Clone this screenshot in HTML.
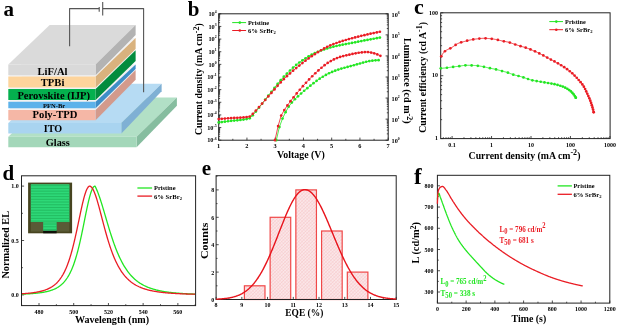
<!DOCTYPE html>
<html><head><meta charset="utf-8"><style>
html,body{margin:0;padding:0;background:#fff;overflow:hidden;}
svg{display:block;filter:blur(0.35px);}
text{font-family:"Liberation Serif",serif;font-weight:bold;}
</style></head><body>
<svg width="617" height="326" viewBox="0 0 617 326">
<rect width="617" height="326" fill="#fff"/>
<text x="3.50" y="16.00" font-size="21" text-anchor="start" fill="#000" >a</text>
<polygon points="8.30,136.80 136.60,136.80 176.90,97.50 49.70,97.50" fill="#b2e0c6" stroke="none" stroke-width="0" />
<polygon points="136.60,136.80 176.90,97.50 176.90,105.70 136.60,147.20" fill="#86bd9f" stroke="none" stroke-width="0" />
<polygon points="8.30,136.80 136.60,136.80 136.60,147.20 8.30,147.20" fill="#a3d7b9" stroke="none" stroke-width="0" />
<polygon points="8.30,122.90 121.40,122.90 161.60,83.80 49.70,83.80" fill="#b6dbf3" stroke="none" stroke-width="0" />
<polygon points="121.40,122.90 161.60,83.80 161.60,91.30 121.40,133.60" fill="#7fb0d4" stroke="none" stroke-width="0" />
<polygon points="8.30,122.90 121.40,122.90 121.40,133.60 8.30,133.60" fill="#a9d4f0" stroke="none" stroke-width="0" />
<polygon points="8.30,109.90 95.60,109.90 135.60,69.90 49.70,69.90" fill="#f2f2f2" stroke="none" stroke-width="0" />
<polygon points="95.60,109.90 135.60,69.90 135.60,79.80 95.60,120.30" fill="#d39a8c" stroke="none" stroke-width="0" />
<polygon points="8.30,109.90 95.60,109.90 95.60,120.30 8.30,120.30" fill="#f5b7a6" stroke="none" stroke-width="0" />
<polygon points="8.30,101.70 95.60,101.70 135.60,64.60 49.70,64.60" fill="#f2f2f2" stroke="none" stroke-width="0" />
<polygon points="95.60,101.70 135.60,64.60 135.60,68.90 95.60,108.30" fill="#3f8ec8" stroke="none" stroke-width="0" />
<polygon points="8.30,101.70 95.60,101.70 95.60,108.30 8.30,108.30" fill="#5db2ea" stroke="none" stroke-width="0" />
<polygon points="8.30,89.00 95.60,89.00 135.60,50.30 49.70,50.30" fill="#f2f2f2" stroke="none" stroke-width="0" />
<polygon points="95.60,89.00 135.60,50.30 135.60,60.90 95.60,99.90" fill="#038c3e" stroke="none" stroke-width="0" />
<polygon points="8.30,89.00 95.60,89.00 95.60,99.90 8.30,99.90" fill="#04b04e" stroke="none" stroke-width="0" />
<polygon points="8.30,76.60 95.60,76.60 135.60,38.00 49.70,38.00" fill="#f2f2f2" stroke="none" stroke-width="0" />
<polygon points="95.60,76.60 135.60,38.00 135.60,48.90 95.60,87.60" fill="#d9b27e" stroke="none" stroke-width="0" />
<polygon points="8.30,76.60 95.60,76.60 95.60,87.60 8.30,87.60" fill="#fdd49c" stroke="none" stroke-width="0" />
<polygon points="8.30,64.50 95.60,64.50 135.60,25.00 49.70,25.00" fill="#dadada" stroke="none" stroke-width="0" />
<polygon points="95.60,64.50 135.60,25.00 135.60,35.00 95.60,75.20" fill="#b3b3b3" stroke="none" stroke-width="0" />
<polygon points="8.30,64.50 95.60,64.50 95.60,75.20 8.30,75.20" fill="#d9d9d9" stroke="none" stroke-width="0" />
<path d="M69.60,46.30 L69.60,8.60 L99.20,8.60" stroke="#555" stroke-width="1.1" fill="none" stroke-linejoin="round" />
<path d="M102.70,8.60 L143.60,8.60 L143.60,92.30" stroke="#555" stroke-width="1.1" fill="none" stroke-linejoin="round" />
<line x1="99.20" y1="7.00" x2="99.20" y2="11.80" stroke="#555" stroke-width="1.1"/>
<line x1="102.70" y1="2.00" x2="102.70" y2="15.50" stroke="#555" stroke-width="1.1"/>
<text x="52.50" y="74.60" font-size="10.7" text-anchor="middle" fill="#000" textLength="29.9" lengthAdjust="spacingAndGlyphs" >LiF/Al</text>
<text x="52.60" y="86.40" font-size="10.7" text-anchor="middle" fill="#000" textLength="23.7" lengthAdjust="spacingAndGlyphs" >TPBi</text>
<text x="53.70" y="98.80" font-size="11" text-anchor="middle" fill="#000" textLength="72.6" lengthAdjust="spacingAndGlyphs" >Perovskite (IJP)</text>
<text x="54.10" y="107.60" font-size="6.5" text-anchor="middle" fill="#000" textLength="22.2" lengthAdjust="spacingAndGlyphs" >PFN-Br</text>
<text x="55.00" y="118.40" font-size="10.7" text-anchor="middle" fill="#000" textLength="44.8" lengthAdjust="spacingAndGlyphs" >Poly-TPD</text>
<text x="53.00" y="132.40" font-size="10.7" text-anchor="middle" fill="#000" textLength="18.4" lengthAdjust="spacingAndGlyphs" >ITO</text>
<text x="57.80" y="145.80" font-size="10.7" text-anchor="middle" fill="#000" textLength="24.1" lengthAdjust="spacingAndGlyphs" >Glass</text>
<text x="187.80" y="16.30" font-size="21" text-anchor="start" fill="#000" >b</text>
<path d="M218.70,140.20L221.30,140.20M218.70,136.39L220.10,136.39M218.70,134.17L220.10,134.17M218.70,132.59L220.10,132.59M218.70,131.37L220.10,131.37M218.70,130.36L220.10,130.36M218.70,129.52L220.10,129.52M218.70,128.78L220.10,128.78M218.70,128.14L220.10,128.14M218.70,127.56L221.30,127.56M218.70,123.75L220.10,123.75M218.70,121.53L220.10,121.53M218.70,119.95L220.10,119.95M218.70,118.73L220.10,118.73M218.70,117.72L220.10,117.72M218.70,116.88L220.10,116.88M218.70,116.14L220.10,116.14M218.70,115.50L220.10,115.50M218.70,114.92L221.30,114.92M218.70,111.11L220.10,111.11M218.70,108.89L220.10,108.89M218.70,107.31L220.10,107.31M218.70,106.09L220.10,106.09M218.70,105.08L220.10,105.08M218.70,104.24L220.10,104.24M218.70,103.50L220.10,103.50M218.70,102.86L220.10,102.86M218.70,102.28L221.30,102.28M218.70,98.47L220.10,98.47M218.70,96.25L220.10,96.25M218.70,94.67L220.10,94.67M218.70,93.45L220.10,93.45M218.70,92.44L220.10,92.44M218.70,91.60L220.10,91.60M218.70,90.86L220.10,90.86M218.70,90.22L220.10,90.22M218.70,89.64L221.30,89.64M218.70,85.83L220.10,85.83M218.70,83.61L220.10,83.61M218.70,82.03L220.10,82.03M218.70,80.81L220.10,80.81M218.70,79.80L220.10,79.80M218.70,78.96L220.10,78.96M218.70,78.22L220.10,78.22M218.70,77.58L220.10,77.58M218.70,77.00L221.30,77.00M218.70,73.19L220.10,73.19M218.70,70.97L220.10,70.97M218.70,69.39L220.10,69.39M218.70,68.17L220.10,68.17M218.70,67.16L220.10,67.16M218.70,66.32L220.10,66.32M218.70,65.58L220.10,65.58M218.70,64.94L220.10,64.94M218.70,64.36L221.30,64.36M218.70,60.55L220.10,60.55M218.70,58.33L220.10,58.33M218.70,56.75L220.10,56.75M218.70,55.53L220.10,55.53M218.70,54.52L220.10,54.52M218.70,53.68L220.10,53.68M218.70,52.94L220.10,52.94M218.70,52.30L220.10,52.30M218.70,51.72L221.30,51.72M218.70,47.91L220.10,47.91M218.70,45.69L220.10,45.69M218.70,44.11L220.10,44.11M218.70,42.89L220.10,42.89M218.70,41.88L220.10,41.88M218.70,41.04L220.10,41.04M218.70,40.30L220.10,40.30M218.70,39.66L220.10,39.66M218.70,39.08L221.30,39.08M218.70,35.27L220.10,35.27M218.70,33.05L220.10,33.05M218.70,31.47L220.10,31.47M218.70,30.25L220.10,30.25M218.70,29.24L220.10,29.24M218.70,28.40L220.10,28.40M218.70,27.66L220.10,27.66M218.70,27.02L220.10,27.02M218.70,26.44L221.30,26.44M218.70,22.63L220.10,22.63M218.70,20.41L220.10,20.41M218.70,18.83L220.10,18.83M218.70,17.61L220.10,17.61M218.70,16.60L220.10,16.60M218.70,15.76L220.10,15.76M218.70,15.02L220.10,15.02M218.70,14.38L220.10,14.38M218.70,13.80L221.30,13.80M388.20,140.20L385.60,140.20M388.20,133.86L386.80,133.86M388.20,130.15L386.80,130.15M388.20,127.52L386.80,127.52M388.20,125.48L386.80,125.48M388.20,123.81L386.80,123.81M388.20,122.40L386.80,122.40M388.20,121.17L386.80,121.17M388.20,120.10L386.80,120.10M388.20,119.13L385.60,119.13M388.20,112.79L386.80,112.79M388.20,109.08L386.80,109.08M388.20,106.45L386.80,106.45M388.20,104.41L386.80,104.41M388.20,102.74L386.80,102.74M388.20,101.33L386.80,101.33M388.20,100.11L386.80,100.11M388.20,99.03L386.80,99.03M388.20,98.07L385.60,98.07M388.20,91.72L386.80,91.72M388.20,88.02L386.80,88.02M388.20,85.38L386.80,85.38M388.20,83.34L386.80,83.34M388.20,81.67L386.80,81.67M388.20,80.26L386.80,80.26M388.20,79.04L386.80,79.04M388.20,77.96L386.80,77.96M388.20,77.00L385.60,77.00M388.20,70.66L386.80,70.66M388.20,66.95L386.80,66.95M388.20,64.32L386.80,64.32M388.20,62.28L386.80,62.28M388.20,60.61L386.80,60.61M388.20,59.20L386.80,59.20M388.20,57.97L386.80,57.97M388.20,56.90L386.80,56.90M388.20,55.93L385.60,55.93M388.20,49.59L386.80,49.59M388.20,45.88L386.80,45.88M388.20,43.25L386.80,43.25M388.20,41.21L386.80,41.21M388.20,39.54L386.80,39.54M388.20,38.13L386.80,38.13M388.20,36.91L386.80,36.91M388.20,35.83L386.80,35.83M388.20,34.87L385.60,34.87M388.20,28.52L386.80,28.52M388.20,24.82L386.80,24.82M388.20,22.18L386.80,22.18M388.20,20.14L386.80,20.14M388.20,18.47L386.80,18.47M388.20,17.06L386.80,17.06M388.20,15.84L386.80,15.84M388.20,14.76L386.80,14.76M388.20,13.80L385.60,13.80M218.70,140.20L218.70,137.60M232.82,140.20L232.82,138.80M246.95,140.20L246.95,137.60M261.07,140.20L261.07,138.80M275.20,140.20L275.20,137.60M289.32,140.20L289.32,138.80M303.45,140.20L303.45,137.60M317.57,140.20L317.57,138.80M331.70,140.20L331.70,137.60M345.82,140.20L345.82,138.80M359.95,140.20L359.95,137.60M374.07,140.20L374.07,138.80M388.20,140.20L388.20,137.60" stroke="#222" stroke-width="0.8" fill="none"/>
<rect x="218.70" y="13.80" width="169.50" height="126.40" fill="none" stroke="#222" stroke-width="1.0" />
<text x="216.60" y="142.40" font-size="6.3" text-anchor="end" fill="#000">10<tspan font-size="3.78" dy="-2.83">-6</tspan></text>
<text x="216.60" y="129.76" font-size="6.3" text-anchor="end" fill="#000">10<tspan font-size="3.78" dy="-2.83">-5</tspan></text>
<text x="216.60" y="117.12" font-size="6.3" text-anchor="end" fill="#000">10<tspan font-size="3.78" dy="-2.83">-4</tspan></text>
<text x="216.60" y="104.48" font-size="6.3" text-anchor="end" fill="#000">10<tspan font-size="3.78" dy="-2.83">-3</tspan></text>
<text x="216.60" y="91.84" font-size="6.3" text-anchor="end" fill="#000">10<tspan font-size="3.78" dy="-2.83">-2</tspan></text>
<text x="216.60" y="79.20" font-size="6.3" text-anchor="end" fill="#000">10<tspan font-size="3.78" dy="-2.83">-1</tspan></text>
<text x="216.60" y="66.56" font-size="6.3" text-anchor="end" fill="#000">10<tspan font-size="3.78" dy="-2.83">0</tspan></text>
<text x="216.60" y="53.92" font-size="6.3" text-anchor="end" fill="#000">10<tspan font-size="3.78" dy="-2.83">1</tspan></text>
<text x="216.60" y="41.28" font-size="6.3" text-anchor="end" fill="#000">10<tspan font-size="3.78" dy="-2.83">2</tspan></text>
<text x="216.60" y="28.64" font-size="6.3" text-anchor="end" fill="#000">10<tspan font-size="3.78" dy="-2.83">3</tspan></text>
<text x="216.60" y="16.00" font-size="6.3" text-anchor="end" fill="#000">10<tspan font-size="3.78" dy="-2.83">4</tspan></text>
<text x="391.50" y="143.00" font-size="6.3" text-anchor="start" fill="#000">10<tspan font-size="3.78" dy="-2.83">0</tspan></text>
<text x="391.50" y="121.93" font-size="6.3" text-anchor="start" fill="#000">10<tspan font-size="3.78" dy="-2.83">1</tspan></text>
<text x="391.50" y="100.87" font-size="6.3" text-anchor="start" fill="#000">10<tspan font-size="3.78" dy="-2.83">2</tspan></text>
<text x="391.50" y="79.80" font-size="6.3" text-anchor="start" fill="#000">10<tspan font-size="3.78" dy="-2.83">3</tspan></text>
<text x="391.50" y="58.73" font-size="6.3" text-anchor="start" fill="#000">10<tspan font-size="3.78" dy="-2.83">4</tspan></text>
<text x="391.50" y="37.67" font-size="6.3" text-anchor="start" fill="#000">10<tspan font-size="3.78" dy="-2.83">5</tspan></text>
<text x="391.50" y="16.60" font-size="6.3" text-anchor="start" fill="#000">10<tspan font-size="3.78" dy="-2.83">6</tspan></text>
<text x="218.70" y="148.00" font-size="6.3" text-anchor="middle" fill="#000" >1</text>
<text x="246.95" y="148.00" font-size="6.3" text-anchor="middle" fill="#000" >2</text>
<text x="275.20" y="148.00" font-size="6.3" text-anchor="middle" fill="#000" >3</text>
<text x="303.45" y="148.00" font-size="6.3" text-anchor="middle" fill="#000" >4</text>
<text x="331.70" y="148.00" font-size="6.3" text-anchor="middle" fill="#000" >5</text>
<text x="359.95" y="148.00" font-size="6.3" text-anchor="middle" fill="#000" >6</text>
<text x="388.20" y="148.00" font-size="6.3" text-anchor="middle" fill="#000" >7</text>
<text x="300.90" y="157.70" font-size="9.9" text-anchor="middle" fill="#000" textLength="47.8" lengthAdjust="spacingAndGlyphs" >Voltage (V)</text>
<text x="202.4" y="79.2" font-size="9.8" text-anchor="middle" transform="rotate(-90 202.4 79.2)">Current density (mA cm<tspan font-size="8" dy="-3.5">-2</tspan><tspan dy="3.5">)</tspan></text>
<text x="403.6" y="80.8" font-size="10.1" text-anchor="middle" transform="rotate(90 403.6 80.8)">Luminance (cd m<tspan font-size="8" dy="-3.5">-2</tspan><tspan dy="3.5">)</tspan></text>
<line x1="232.20" y1="22.60" x2="246.10" y2="22.60" stroke="#22e622" stroke-width="1.0"/>
<g fill="#22e622"><circle cx="239.80" cy="22.60" r="1.3"/></g>
<line x1="232.20" y1="30.50" x2="246.10" y2="30.50" stroke="#ea1c24" stroke-width="1.0"/>
<g fill="#ea1c24"><circle cx="239.80" cy="30.50" r="1.3"/></g>
<text x="248.00" y="24.60" font-size="6.45" text-anchor="start" fill="#000" textLength="21.0" lengthAdjust="spacingAndGlyphs" >Pristine</text>
<text x="248.0" y="32.8" font-size="6.45" text-anchor="start" textLength="25.5" lengthAdjust="spacingAndGlyphs">6% SrBr</text><text x="273.6" y="34.3" font-size="4.6">2</text>
<path d="M218.70,122.40 L221.80,122.03 L224.90,121.65 L228.00,121.26 L231.10,120.87 L234.20,120.55 L237.30,120.28 L240.40,119.99 L243.50,119.61 L246.60,119.06 L249.70,118.30 L252.80,115.29 L255.90,111.59 L259.00,107.76 L262.10,103.75 L265.20,99.67 L268.30,95.64 L271.40,91.75 L274.50,87.81 L277.60,83.90 L280.70,80.16 L283.80,76.71 L286.90,73.53 L290.00,70.48 L293.10,67.61 L296.20,64.94 L299.30,62.51 L302.40,60.31 L305.50,58.24 L308.60,56.34 L311.70,54.61 L314.80,53.09 L317.90,51.75 L321.00,50.52 L324.10,49.41 L327.20,48.41 L330.30,47.52 L333.40,46.72 L336.50,45.99 L339.60,45.31 L342.70,44.68 L345.80,44.07 L348.90,43.48 L352.00,42.89 L355.10,42.28 L358.20,41.67 L361.30,41.06 L364.40,40.47 L367.50,39.88 L370.60,39.30 L373.70,38.73 L376.80,38.17 L379.90,37.62" stroke="#22e622" stroke-width="0.8" fill="none" stroke-linejoin="round" />
<g fill="#22e622"><circle cx="218.70" cy="122.40" r="1.35"/><circle cx="221.80" cy="122.03" r="1.35"/><circle cx="224.90" cy="121.65" r="1.35"/><circle cx="228.00" cy="121.26" r="1.35"/><circle cx="231.10" cy="120.87" r="1.35"/><circle cx="234.20" cy="120.55" r="1.35"/><circle cx="237.30" cy="120.28" r="1.35"/><circle cx="240.40" cy="119.99" r="1.35"/><circle cx="243.50" cy="119.61" r="1.35"/><circle cx="246.60" cy="119.06" r="1.35"/><circle cx="249.70" cy="118.30" r="1.35"/><circle cx="252.80" cy="115.29" r="1.35"/><circle cx="255.90" cy="111.59" r="1.35"/><circle cx="259.00" cy="107.76" r="1.35"/><circle cx="262.10" cy="103.75" r="1.35"/><circle cx="265.20" cy="99.67" r="1.35"/><circle cx="268.30" cy="95.64" r="1.35"/><circle cx="271.40" cy="91.75" r="1.35"/><circle cx="274.50" cy="87.81" r="1.35"/><circle cx="277.60" cy="83.90" r="1.35"/><circle cx="280.70" cy="80.16" r="1.35"/><circle cx="283.80" cy="76.71" r="1.35"/><circle cx="286.90" cy="73.53" r="1.35"/><circle cx="290.00" cy="70.48" r="1.35"/><circle cx="293.10" cy="67.61" r="1.35"/><circle cx="296.20" cy="64.94" r="1.35"/><circle cx="299.30" cy="62.51" r="1.35"/><circle cx="302.40" cy="60.31" r="1.35"/><circle cx="305.50" cy="58.24" r="1.35"/><circle cx="308.60" cy="56.34" r="1.35"/><circle cx="311.70" cy="54.61" r="1.35"/><circle cx="314.80" cy="53.09" r="1.35"/><circle cx="317.90" cy="51.75" r="1.35"/><circle cx="321.00" cy="50.52" r="1.35"/><circle cx="324.10" cy="49.41" r="1.35"/><circle cx="327.20" cy="48.41" r="1.35"/><circle cx="330.30" cy="47.52" r="1.35"/><circle cx="333.40" cy="46.72" r="1.35"/><circle cx="336.50" cy="45.99" r="1.35"/><circle cx="339.60" cy="45.31" r="1.35"/><circle cx="342.70" cy="44.68" r="1.35"/><circle cx="345.80" cy="44.07" r="1.35"/><circle cx="348.90" cy="43.48" r="1.35"/><circle cx="352.00" cy="42.89" r="1.35"/><circle cx="355.10" cy="42.28" r="1.35"/><circle cx="358.20" cy="41.67" r="1.35"/><circle cx="361.30" cy="41.06" r="1.35"/><circle cx="364.40" cy="40.47" r="1.35"/><circle cx="367.50" cy="39.88" r="1.35"/><circle cx="370.60" cy="39.30" r="1.35"/><circle cx="373.70" cy="38.73" r="1.35"/><circle cx="376.80" cy="38.17" r="1.35"/><circle cx="379.90" cy="37.62" r="1.35"/></g>
<path d="M276.30,140.20 L279.40,127.03 L282.50,118.59 L285.60,112.15 L288.70,106.68 L291.80,102.55 L294.90,99.24 L298.00,96.34 L301.10,93.49 L304.20,90.76 L307.30,88.18 L310.40,85.68 L313.50,83.22 L316.60,80.86 L319.70,78.70 L322.80,76.73 L325.90,74.90 L329.00,73.27 L332.10,71.88 L335.20,70.65 L338.30,69.55 L341.40,68.58 L344.50,67.73 L347.60,66.93 L350.70,66.11 L353.80,65.23 L356.90,64.35 L360.00,63.50 L363.10,62.62 L366.20,61.76 L369.30,61.10 L372.40,60.70 L375.50,60.36 L378.60,60.15" stroke="#22e622" stroke-width="0.8" fill="none" stroke-linejoin="round" />
<g fill="#22e622"><circle cx="276.30" cy="140.20" r="1.35"/><circle cx="279.40" cy="127.03" r="1.35"/><circle cx="282.50" cy="118.59" r="1.35"/><circle cx="285.60" cy="112.15" r="1.35"/><circle cx="288.70" cy="106.68" r="1.35"/><circle cx="291.80" cy="102.55" r="1.35"/><circle cx="294.90" cy="99.24" r="1.35"/><circle cx="298.00" cy="96.34" r="1.35"/><circle cx="301.10" cy="93.49" r="1.35"/><circle cx="304.20" cy="90.76" r="1.35"/><circle cx="307.30" cy="88.18" r="1.35"/><circle cx="310.40" cy="85.68" r="1.35"/><circle cx="313.50" cy="83.22" r="1.35"/><circle cx="316.60" cy="80.86" r="1.35"/><circle cx="319.70" cy="78.70" r="1.35"/><circle cx="322.80" cy="76.73" r="1.35"/><circle cx="325.90" cy="74.90" r="1.35"/><circle cx="329.00" cy="73.27" r="1.35"/><circle cx="332.10" cy="71.88" r="1.35"/><circle cx="335.20" cy="70.65" r="1.35"/><circle cx="338.30" cy="69.55" r="1.35"/><circle cx="341.40" cy="68.58" r="1.35"/><circle cx="344.50" cy="67.73" r="1.35"/><circle cx="347.60" cy="66.93" r="1.35"/><circle cx="350.70" cy="66.11" r="1.35"/><circle cx="353.80" cy="65.23" r="1.35"/><circle cx="356.90" cy="64.35" r="1.35"/><circle cx="360.00" cy="63.50" r="1.35"/><circle cx="363.10" cy="62.62" r="1.35"/><circle cx="366.20" cy="61.76" r="1.35"/><circle cx="369.30" cy="61.10" r="1.35"/><circle cx="372.40" cy="60.70" r="1.35"/><circle cx="375.50" cy="60.36" r="1.35"/><circle cx="378.60" cy="60.15" r="1.35"/></g>
<path d="M218.70,119.00 L221.80,118.79 L224.90,118.57 L228.00,118.35 L231.10,118.12 L234.20,117.95 L237.30,117.80 L240.40,117.63 L243.50,117.41 L246.60,117.08 L249.70,116.60 L252.80,113.87 L255.90,110.52 L259.00,107.12 L262.10,103.58 L265.20,99.99 L268.30,96.42 L271.40,92.92 L274.50,89.38 L277.60,85.83 L280.70,82.40 L283.80,79.20 L286.90,76.22 L290.00,73.39 L293.10,70.69 L296.20,68.08 L299.30,65.56 L302.40,63.10 L305.50,60.71 L308.60,58.40 L311.70,56.20 L314.80,54.13 L317.90,52.16 L321.00,50.24 L324.10,48.44 L327.20,46.80 L330.30,45.37 L333.40,44.12 L336.50,42.98 L339.60,41.93 L342.70,40.95 L345.80,40.02 L348.90,39.12 L352.00,38.24 L355.10,37.41 L358.20,36.63 L361.30,35.87 L364.40,35.14 L367.50,34.42 L370.60,33.72 L373.70,33.04 L376.80,32.38 L379.90,31.74" stroke="#ea1c24" stroke-width="0.8" fill="none" stroke-linejoin="round" />
<g fill="#ea1c24"><circle cx="218.70" cy="119.00" r="1.35"/><circle cx="221.80" cy="118.79" r="1.35"/><circle cx="224.90" cy="118.57" r="1.35"/><circle cx="228.00" cy="118.35" r="1.35"/><circle cx="231.10" cy="118.12" r="1.35"/><circle cx="234.20" cy="117.95" r="1.35"/><circle cx="237.30" cy="117.80" r="1.35"/><circle cx="240.40" cy="117.63" r="1.35"/><circle cx="243.50" cy="117.41" r="1.35"/><circle cx="246.60" cy="117.08" r="1.35"/><circle cx="249.70" cy="116.60" r="1.35"/><circle cx="252.80" cy="113.87" r="1.35"/><circle cx="255.90" cy="110.52" r="1.35"/><circle cx="259.00" cy="107.12" r="1.35"/><circle cx="262.10" cy="103.58" r="1.35"/><circle cx="265.20" cy="99.99" r="1.35"/><circle cx="268.30" cy="96.42" r="1.35"/><circle cx="271.40" cy="92.92" r="1.35"/><circle cx="274.50" cy="89.38" r="1.35"/><circle cx="277.60" cy="85.83" r="1.35"/><circle cx="280.70" cy="82.40" r="1.35"/><circle cx="283.80" cy="79.20" r="1.35"/><circle cx="286.90" cy="76.22" r="1.35"/><circle cx="290.00" cy="73.39" r="1.35"/><circle cx="293.10" cy="70.69" r="1.35"/><circle cx="296.20" cy="68.08" r="1.35"/><circle cx="299.30" cy="65.56" r="1.35"/><circle cx="302.40" cy="63.10" r="1.35"/><circle cx="305.50" cy="60.71" r="1.35"/><circle cx="308.60" cy="58.40" r="1.35"/><circle cx="311.70" cy="56.20" r="1.35"/><circle cx="314.80" cy="54.13" r="1.35"/><circle cx="317.90" cy="52.16" r="1.35"/><circle cx="321.00" cy="50.24" r="1.35"/><circle cx="324.10" cy="48.44" r="1.35"/><circle cx="327.20" cy="46.80" r="1.35"/><circle cx="330.30" cy="45.37" r="1.35"/><circle cx="333.40" cy="44.12" r="1.35"/><circle cx="336.50" cy="42.98" r="1.35"/><circle cx="339.60" cy="41.93" r="1.35"/><circle cx="342.70" cy="40.95" r="1.35"/><circle cx="345.80" cy="40.02" r="1.35"/><circle cx="348.90" cy="39.12" r="1.35"/><circle cx="352.00" cy="38.24" r="1.35"/><circle cx="355.10" cy="37.41" r="1.35"/><circle cx="358.20" cy="36.63" r="1.35"/><circle cx="361.30" cy="35.87" r="1.35"/><circle cx="364.40" cy="35.14" r="1.35"/><circle cx="367.50" cy="34.42" r="1.35"/><circle cx="370.60" cy="33.72" r="1.35"/><circle cx="373.70" cy="33.04" r="1.35"/><circle cx="376.80" cy="32.38" r="1.35"/><circle cx="379.90" cy="31.74" r="1.35"/></g>
<path d="M275.00,140.20 L278.10,126.07 L281.20,115.54 L284.30,110.01 L287.40,105.44 L290.50,101.22 L293.60,97.23 L296.70,93.40 L299.80,89.73 L302.90,86.18 L306.00,82.73 L309.10,79.43 L312.20,76.27 L315.30,73.24 L318.40,70.38 L321.50,67.74 L324.60,65.22 L327.70,62.93 L330.80,61.06 L333.90,59.46 L337.00,58.09 L340.10,56.97 L343.20,56.07 L346.30,55.31 L349.40,54.63 L352.50,53.95 L355.60,53.31 L358.70,52.77 L361.80,52.39 L364.90,52.08 L368.00,52.04 L371.10,52.56 L374.20,53.35 L377.30,54.40 L380.40,55.80" stroke="#ea1c24" stroke-width="0.8" fill="none" stroke-linejoin="round" />
<g fill="#ea1c24"><circle cx="275.00" cy="140.20" r="1.35"/><circle cx="278.10" cy="126.07" r="1.35"/><circle cx="281.20" cy="115.54" r="1.35"/><circle cx="284.30" cy="110.01" r="1.35"/><circle cx="287.40" cy="105.44" r="1.35"/><circle cx="290.50" cy="101.22" r="1.35"/><circle cx="293.60" cy="97.23" r="1.35"/><circle cx="296.70" cy="93.40" r="1.35"/><circle cx="299.80" cy="89.73" r="1.35"/><circle cx="302.90" cy="86.18" r="1.35"/><circle cx="306.00" cy="82.73" r="1.35"/><circle cx="309.10" cy="79.43" r="1.35"/><circle cx="312.20" cy="76.27" r="1.35"/><circle cx="315.30" cy="73.24" r="1.35"/><circle cx="318.40" cy="70.38" r="1.35"/><circle cx="321.50" cy="67.74" r="1.35"/><circle cx="324.60" cy="65.22" r="1.35"/><circle cx="327.70" cy="62.93" r="1.35"/><circle cx="330.80" cy="61.06" r="1.35"/><circle cx="333.90" cy="59.46" r="1.35"/><circle cx="337.00" cy="58.09" r="1.35"/><circle cx="340.10" cy="56.97" r="1.35"/><circle cx="343.20" cy="56.07" r="1.35"/><circle cx="346.30" cy="55.31" r="1.35"/><circle cx="349.40" cy="54.63" r="1.35"/><circle cx="352.50" cy="53.95" r="1.35"/><circle cx="355.60" cy="53.31" r="1.35"/><circle cx="358.70" cy="52.77" r="1.35"/><circle cx="361.80" cy="52.39" r="1.35"/><circle cx="364.90" cy="52.08" r="1.35"/><circle cx="368.00" cy="52.04" r="1.35"/><circle cx="371.10" cy="52.56" r="1.35"/><circle cx="374.20" cy="53.35" r="1.35"/><circle cx="377.30" cy="54.40" r="1.35"/><circle cx="380.40" cy="55.80" r="1.35"/></g>
<text x="414.00" y="13.70" font-size="22" text-anchor="start" fill="#000" >c</text>
<path d="M440.70,138.60L443.30,138.60M440.70,119.67L442.10,119.67M440.70,108.59L442.10,108.59M440.70,100.73L442.10,100.73M440.70,94.63L442.10,94.63M440.70,89.65L442.10,89.65M440.70,85.44L442.10,85.44M440.70,81.80L442.10,81.80M440.70,78.58L442.10,78.58M440.70,75.70L443.30,75.70M440.70,56.77L442.10,56.77M440.70,45.69L442.10,45.69M440.70,37.83L442.10,37.83M440.70,31.73L442.10,31.73M440.70,26.75L442.10,26.75M440.70,22.54L442.10,22.54M440.70,18.90L442.10,18.90M440.70,15.68L442.10,15.68M440.70,12.80L443.30,12.80M443.35,138.60L443.35,137.20M445.99,138.60L445.99,137.20M448.28,138.60L448.28,137.20M450.29,138.60L450.29,137.20M452.10,138.60L452.10,136.00M463.98,138.60L463.98,137.20M470.92,138.60L470.92,137.20M475.85,138.60L475.85,137.20M479.67,138.60L479.67,137.20M482.80,138.60L482.80,137.20M485.44,138.60L485.44,137.20M487.73,138.60L487.73,137.20M489.74,138.60L489.74,137.20M491.55,138.60L491.55,136.00M503.43,138.60L503.43,137.20M510.37,138.60L510.37,137.20M515.30,138.60L515.30,137.20M519.12,138.60L519.12,137.20M522.25,138.60L522.25,137.20M524.89,138.60L524.89,137.20M527.18,138.60L527.18,137.20M529.19,138.60L529.19,137.20M531.00,138.60L531.00,136.00M542.88,138.60L542.88,137.20M549.82,138.60L549.82,137.20M554.75,138.60L554.75,137.20M558.57,138.60L558.57,137.20M561.70,138.60L561.70,137.20M564.34,138.60L564.34,137.20M566.63,138.60L566.63,137.20M568.64,138.60L568.64,137.20M570.45,138.60L570.45,136.00M582.33,138.60L582.33,137.20M589.27,138.60L589.27,137.20M594.20,138.60L594.20,137.20M598.02,138.60L598.02,137.20M601.15,138.60L601.15,137.20M603.79,138.60L603.79,137.20M606.08,138.60L606.08,137.20M608.09,138.60L608.09,137.20M609.90,138.60L609.90,136.00" stroke="#222" stroke-width="0.8" fill="none"/>
<rect x="440.70" y="12.80" width="169.40" height="125.80" fill="none" stroke="#222" stroke-width="1.0" />
<text x="438.00" y="15.00" font-size="6.0" text-anchor="end" fill="#000" >100</text>
<text x="438.00" y="77.30" font-size="6.0" text-anchor="end" fill="#000" >10</text>
<text x="438.00" y="140.40" font-size="6.0" text-anchor="end" fill="#000" >1</text>
<text x="452.10" y="147.30" font-size="6.0" text-anchor="middle" fill="#000" >0.1</text>
<text x="491.55" y="147.30" font-size="6.0" text-anchor="middle" fill="#000" >1</text>
<text x="531.00" y="147.30" font-size="6.0" text-anchor="middle" fill="#000" >10</text>
<text x="570.45" y="147.30" font-size="6.0" text-anchor="middle" fill="#000" >100</text>
<text x="609.90" y="147.30" font-size="6.0" text-anchor="middle" fill="#000" >1000</text>
<text x="468.6" y="158.8" font-size="9.8" text-anchor="start">Current density (mA cm<tspan font-size="8" dy="-3.5">-2</tspan><tspan dy="3.5">)</tspan></text>
<text x="425.9" y="77.4" font-size="9.8" text-anchor="middle" transform="rotate(-90 425.9 77.4)">Current efficiency (cd A<tspan font-size="8" dy="-3.5">-1</tspan><tspan dy="3.5">)</tspan></text>
<line x1="549.30" y1="21.60" x2="563.00" y2="21.60" stroke="#22e622" stroke-width="1.0"/>
<g fill="#22e622"><circle cx="556.30" cy="21.60" r="1.3"/></g>
<line x1="549.30" y1="29.70" x2="563.00" y2="29.70" stroke="#ea1c24" stroke-width="1.0"/>
<g fill="#ea1c24"><circle cx="556.30" cy="29.70" r="1.3"/></g>
<text x="565.10" y="23.70" font-size="6.45" text-anchor="start" fill="#000" textLength="20.7" lengthAdjust="spacingAndGlyphs" >Pristine</text>
<text x="565.1" y="31.8" font-size="6.45" text-anchor="start" textLength="25.0" lengthAdjust="spacingAndGlyphs">6% SrBr</text><text x="590.2" y="33.3" font-size="4.6">2</text>
<path d="M440.80,68.30 L441.16,68.28 L441.51,68.26 L441.87,68.24 L442.23,68.22 L442.58,68.20 L442.94,68.17 L443.29,68.15 L443.65,68.12 L444.00,68.09 L444.36,68.06 L444.71,68.03 L445.07,67.99 L445.42,67.96 L445.78,67.92 L446.13,67.88 L446.48,67.83 L446.84,67.79 L447.19,67.74 L447.54,67.69 L447.90,67.63 L448.25,67.58 L448.60,67.53 L448.96,67.47 L449.31,67.42 L449.66,67.36 L450.01,67.31 L450.37,67.26 L450.72,67.21 L451.07,67.16 L451.43,67.11 L451.78,67.06 L452.13,67.02 L452.49,66.98 L452.84,66.93 L453.20,66.89 L453.55,66.85 L453.90,66.80 L454.26,66.76 L454.61,66.72 L454.97,66.68 L455.32,66.64 L455.68,66.60 L456.03,66.56 L456.38,66.51 L456.74,66.47 L457.09,66.43 L457.45,66.39 L457.80,66.35 L458.16,66.31 L458.51,66.26 L458.86,66.21 L459.22,66.16 L459.57,66.11 L459.92,66.06 L460.28,66.00 L460.63,65.95 L460.99,65.89 L461.34,65.83 L461.69,65.78 L462.05,65.72 L462.40,65.67 L462.75,65.62 L463.11,65.57 L463.46,65.52 L463.82,65.48 L464.17,65.44 L464.52,65.40 L464.88,65.37 L465.23,65.34 L465.59,65.32 L465.94,65.31 L466.30,65.30 L466.65,65.30 L467.01,65.30 L467.36,65.30 L467.72,65.31 L468.08,65.31 L468.43,65.31 L468.79,65.32 L469.15,65.32 L469.50,65.33 L469.86,65.34 L470.22,65.35 L470.58,65.36 L470.93,65.36 L471.29,65.37 L471.65,65.39 L472.00,65.40 L472.36,65.41 L472.72,65.42 L473.07,65.43 L473.43,65.45 L473.79,65.46 L474.14,65.47 L474.50,65.49 L474.85,65.50 L475.21,65.52 L475.56,65.54 L475.92,65.57 L476.27,65.60 L476.63,65.64 L476.98,65.67 L477.34,65.72 L477.69,65.76 L478.05,65.81 L478.40,65.86 L478.75,65.91 L479.11,65.96 L479.46,66.02 L479.82,66.07 L480.17,66.13 L480.52,66.19 L480.87,66.25 L481.22,66.31 L481.58,66.36 L481.93,66.42 L482.28,66.48 L482.63,66.55 L482.98,66.61 L483.33,66.69 L483.67,66.76 L484.02,66.84 L484.37,66.91 L484.72,66.99 L485.07,67.08 L485.41,67.16 L485.76,67.24 L486.11,67.33 L486.46,67.41 L486.80,67.49 L487.15,67.57 L487.50,67.66 L487.85,67.73 L488.19,67.81 L488.54,67.89 L488.89,67.96 L489.24,68.03 L489.59,68.10 L489.94,68.17 L490.29,68.24 L490.64,68.31 L490.99,68.38 L491.34,68.45 L491.69,68.52 L492.04,68.58 L492.39,68.65 L492.74,68.72 L493.09,68.79 L493.44,68.86 L493.79,68.94 L494.14,69.01 L494.49,69.09 L494.83,69.16 L495.18,69.24 L495.53,69.32 L495.88,69.41 L496.22,69.49 L496.57,69.58 L496.91,69.67 L497.26,69.76 L497.60,69.85 L497.95,69.94 L498.29,70.03 L498.64,70.12 L498.98,70.21 L499.33,70.31 L499.67,70.40 L500.01,70.50 L500.36,70.59 L500.70,70.68 L501.05,70.78 L501.39,70.87 L501.74,70.96 L502.08,71.06 L502.43,71.15 L502.77,71.24 L503.12,71.33 L503.46,71.42 L503.81,71.51 L504.15,71.60 L504.50,71.69 L504.84,71.79 L505.19,71.88 L505.53,71.97 L505.87,72.07 L506.22,72.17 L506.56,72.27 L506.90,72.37 L507.24,72.47 L507.58,72.57 L507.92,72.68 L508.26,72.78 L508.60,72.90 L508.94,73.02 L509.27,73.14 L509.61,73.26 L509.94,73.39 L510.27,73.52 L510.61,73.65 L510.94,73.78 L511.27,73.91 L511.60,74.04 L511.94,74.16 L512.27,74.29 L512.61,74.41 L512.95,74.52 L513.28,74.63 L513.62,74.74 L513.96,74.84 L514.31,74.94 L514.65,75.03 L514.99,75.12 L515.34,75.21 L515.68,75.30 L516.03,75.39 L516.38,75.48 L516.72,75.56 L517.07,75.64 L517.42,75.73 L517.77,75.81 L518.11,75.90 L518.46,75.98 L518.81,76.07 L519.15,76.15 L519.50,76.24 L519.84,76.33 L520.19,76.43 L520.53,76.52 L520.87,76.62 L521.21,76.72 L521.55,76.83 L521.90,76.93 L522.23,77.04 L522.57,77.15 L522.91,77.26 L523.25,77.37 L523.59,77.48 L523.93,77.60 L524.27,77.71 L524.61,77.83 L524.94,77.94 L525.28,78.06 L525.62,78.17 L525.96,78.28 L526.29,78.40 L526.63,78.51 L526.97,78.63 L527.31,78.75 L527.64,78.88 L527.98,79.00 L528.31,79.13 L528.65,79.25 L528.99,79.37 L529.32,79.49 L529.66,79.61 L530.00,79.72 L530.34,79.82 L530.68,79.92 L531.02,80.01 L531.37,80.09 L531.71,80.17 L532.06,80.25 L532.40,80.32 L532.75,80.40 L533.10,80.47 L533.45,80.54 L533.80,80.61 L534.15,80.67 L534.50,80.74 L534.85,80.80 L535.20,80.87 L535.55,80.93 L535.90,80.99 L536.25,81.05 L536.61,81.10 L536.96,81.16 L537.31,81.22 L537.67,81.28 L538.02,81.33 L538.37,81.39 L538.73,81.44 L539.08,81.50 L539.43,81.56 L539.79,81.61 L540.14,81.67 L540.49,81.73 L540.85,81.79 L541.20,81.84 L541.55,81.90 L541.90,81.97 L542.25,82.03 L542.61,82.09 L542.96,82.15 L543.31,82.21 L543.66,82.27 L544.01,82.32 L544.37,82.38 L544.72,82.44 L545.07,82.50 L545.42,82.55 L545.78,82.61 L546.13,82.67 L546.48,82.72 L546.83,82.78 L547.19,82.84 L547.54,82.89 L547.89,82.95 L548.24,83.01 L548.59,83.07 L548.95,83.12 L549.30,83.18 L549.65,83.24 L550.00,83.31 L550.35,83.37 L550.70,83.43 L551.05,83.50 L551.40,83.56 L551.75,83.63 L552.10,83.70 L552.45,83.77 L552.80,83.84 L553.15,83.91 L553.50,83.98 L553.84,84.06 L554.19,84.14 L554.54,84.21 L554.89,84.29 L555.24,84.37 L555.59,84.45 L555.94,84.54 L556.29,84.62 L556.64,84.71 L556.98,84.79 L557.33,84.88 L557.68,84.97 L558.02,85.07 L558.37,85.16 L558.71,85.26 L559.05,85.36 L559.40,85.46 L559.74,85.56 L560.08,85.66 L560.42,85.77 L560.75,85.88 L561.09,85.99 L561.42,86.11 L561.75,86.22 L562.09,86.35 L562.42,86.47 L562.75,86.60 L563.09,86.73 L563.42,86.87 L563.75,87.01 L564.08,87.16 L564.41,87.30 L564.74,87.46 L565.07,87.61 L565.39,87.77 L565.71,87.93 L566.03,88.09 L566.35,88.26 L566.67,88.43 L566.98,88.61 L567.29,88.78 L567.59,88.96 L567.89,89.14 L568.19,89.33 L568.48,89.52 L568.77,89.71 L569.06,89.92 L569.35,90.13 L569.64,90.34 L569.92,90.57 L570.20,90.79 L570.48,91.03 L570.75,91.27 L571.02,91.51 L571.28,91.76 L571.54,92.01 L571.80,92.26 L572.05,92.51 L572.29,92.77 L572.52,93.03 L572.76,93.29 L572.98,93.55 L573.21,93.82 L573.43,94.10 L573.65,94.38 L573.87,94.66 L574.08,94.95 L574.29,95.24 L574.49,95.53 L574.69,95.83 L574.89,96.13 L575.08,96.44 L575.26,96.75 L575.45,97.06 L575.63,97.38 L575.80,97.70" stroke="#22e622" stroke-width="0.9" fill="none" stroke-linejoin="round" />
<g fill="#22e622"><circle cx="440.80" cy="68.30" r="1.35"/><circle cx="446.97" cy="67.77" r="1.35"/><circle cx="453.11" cy="66.90" r="1.35"/><circle cx="459.27" cy="66.16" r="1.35"/><circle cx="465.42" cy="65.33" r="1.35"/><circle cx="471.62" cy="65.38" r="1.35"/><circle cx="477.80" cy="65.78" r="1.35"/><circle cx="483.92" cy="66.81" r="1.35"/><circle cx="489.97" cy="68.18" r="1.35"/><circle cx="496.04" cy="69.45" r="1.35"/><circle cx="502.03" cy="71.04" r="1.35"/><circle cx="507.89" cy="72.67" r="1.35"/><circle cx="513.29" cy="74.63" r="1.35"/><circle cx="518.54" cy="76.00" r="1.35"/><circle cx="523.45" cy="77.44" r="1.35"/><circle cx="528.03" cy="79.02" r="1.35"/><circle cx="532.40" cy="80.32" r="1.35"/><circle cx="536.65" cy="81.11" r="1.35"/><circle cx="540.68" cy="81.76" r="1.35"/><circle cx="544.47" cy="82.40" r="1.35"/><circle cx="548.05" cy="82.98" r="1.35"/><circle cx="551.41" cy="83.56" r="1.35"/><circle cx="554.56" cy="84.22" r="1.35"/><circle cx="557.52" cy="84.93" r="1.35"/><circle cx="560.28" cy="85.73" r="1.35"/><circle cx="562.81" cy="86.62" r="1.35"/><circle cx="565.18" cy="87.66" r="1.35"/><circle cx="567.32" cy="88.80" r="1.35"/><circle cx="569.22" cy="90.03" r="1.35"/><circle cx="570.94" cy="91.43" r="1.35"/><circle cx="572.42" cy="92.91" r="1.35"/><circle cx="573.68" cy="94.42" r="1.35"/><circle cx="574.80" cy="95.99" r="1.35"/><circle cx="575.76" cy="97.63" r="1.35"/><circle cx="575.80" cy="97.70" r="1.35"/></g>
<path d="M441.30,56.30 L441.52,55.85 L441.75,55.40 L442.00,54.97 L442.25,54.54 L442.51,54.13 L442.78,53.72 L443.06,53.33 L443.35,52.95 L443.65,52.58 L443.95,52.23 L444.27,51.90 L444.59,51.58 L444.91,51.28 L445.25,50.99 L445.61,50.72 L445.98,50.47 L446.38,50.23 L446.78,49.99 L447.20,49.77 L447.63,49.55 L448.06,49.34 L448.50,49.13 L448.95,48.93 L449.40,48.72 L449.84,48.51 L450.28,48.30 L450.72,48.09 L451.15,47.86 L451.57,47.63 L451.98,47.39 L452.38,47.14 L452.78,46.88 L453.18,46.61 L453.57,46.33 L453.96,46.05 L454.36,45.77 L454.75,45.48 L455.14,45.21 L455.53,44.93 L455.93,44.66 L456.32,44.40 L456.73,44.16 L457.13,43.92 L457.55,43.70 L457.96,43.50 L458.39,43.32 L458.82,43.15 L459.26,42.99 L459.70,42.83 L460.15,42.68 L460.61,42.54 L461.06,42.40 L461.52,42.27 L461.99,42.14 L462.45,42.01 L462.91,41.88 L463.38,41.76 L463.84,41.63 L464.30,41.51 L464.76,41.38 L465.22,41.26 L465.67,41.13 L466.13,41.00 L466.59,40.88 L467.05,40.76 L467.51,40.63 L467.97,40.51 L468.43,40.40 L468.89,40.28 L469.36,40.17 L469.82,40.07 L470.28,39.97 L470.75,39.87 L471.21,39.78 L471.68,39.69 L472.14,39.61 L472.61,39.52 L473.08,39.44 L473.55,39.36 L474.02,39.28 L474.49,39.21 L474.96,39.14 L475.43,39.07 L475.90,39.00 L476.37,38.94 L476.84,38.88 L477.32,38.83 L477.79,38.78 L478.26,38.73 L478.73,38.68 L479.20,38.63 L479.68,38.58 L480.15,38.53 L480.63,38.48 L481.10,38.44 L481.57,38.40 L482.05,38.37 L482.52,38.34 L483.00,38.32 L483.47,38.31 L483.94,38.30 L484.42,38.30 L484.89,38.31 L485.37,38.33 L485.84,38.35 L486.32,38.37 L486.79,38.40 L487.27,38.43 L487.74,38.46 L488.22,38.50 L488.69,38.54 L489.16,38.58 L489.64,38.62 L490.11,38.67 L490.58,38.71 L491.05,38.75 L491.53,38.81 L492.00,38.86 L492.47,38.93 L492.94,38.99 L493.41,39.06 L493.88,39.14 L494.35,39.22 L494.82,39.30 L495.29,39.38 L495.75,39.46 L496.22,39.55 L496.69,39.64 L497.15,39.73 L497.62,39.83 L498.08,39.94 L498.54,40.05 L499.00,40.16 L499.46,40.28 L499.92,40.40 L500.38,40.51 L500.85,40.63 L501.31,40.75 L501.77,40.86 L502.23,40.96 L502.70,41.06 L503.16,41.16 L503.63,41.25 L504.10,41.34 L504.57,41.42 L505.04,41.51 L505.50,41.59 L505.97,41.68 L506.44,41.77 L506.91,41.86 L507.37,41.95 L507.84,42.05 L508.30,42.15 L508.76,42.26 L509.21,42.38 L509.67,42.52 L510.12,42.66 L510.57,42.81 L511.02,42.97 L511.46,43.13 L511.91,43.30 L512.36,43.46 L512.80,43.63 L513.25,43.80 L513.70,43.96 L514.15,44.12 L514.60,44.26 L515.05,44.41 L515.50,44.56 L515.95,44.70 L516.41,44.84 L516.86,44.99 L517.31,45.13 L517.77,45.27 L518.22,45.41 L518.68,45.55 L519.13,45.69 L519.58,45.83 L520.04,45.97 L520.49,46.11 L520.95,46.25 L521.40,46.38 L521.86,46.52 L522.31,46.65 L522.77,46.79 L523.23,46.92 L523.68,47.05 L524.14,47.19 L524.59,47.32 L525.05,47.46 L525.50,47.60 L525.95,47.75 L526.40,47.90 L526.85,48.05 L527.30,48.21 L527.74,48.37 L528.19,48.54 L528.63,48.70 L529.08,48.87 L529.52,49.05 L529.96,49.22 L530.40,49.40 L530.84,49.58 L531.28,49.76 L531.72,49.94 L532.16,50.13 L532.60,50.31 L533.04,50.50 L533.47,50.69 L533.91,50.88 L534.34,51.08 L534.78,51.27 L535.21,51.47 L535.64,51.66 L536.08,51.86 L536.51,52.06 L536.94,52.26 L537.37,52.46 L537.79,52.66 L538.22,52.86 L538.65,53.07 L539.07,53.28 L539.50,53.49 L539.92,53.70 L540.35,53.92 L540.77,54.13 L541.19,54.35 L541.61,54.57 L542.04,54.79 L542.46,55.01 L542.88,55.23 L543.30,55.45 L543.72,55.68 L544.14,55.90 L544.56,56.13 L544.97,56.35 L545.39,56.58 L545.81,56.81 L546.23,57.03 L546.65,57.26 L547.06,57.49 L547.48,57.72 L547.90,57.94 L548.32,58.17 L548.74,58.40 L549.15,58.63 L549.57,58.85 L549.99,59.08 L550.41,59.30 L550.83,59.53 L551.24,59.75 L551.66,59.98 L552.08,60.20 L552.50,60.42 L552.93,60.65 L553.35,60.87 L553.77,61.09 L554.19,61.31 L554.61,61.54 L555.03,61.76 L555.45,61.99 L555.87,62.21 L556.28,62.44 L556.70,62.67 L557.12,62.90 L557.53,63.13 L557.95,63.36 L558.36,63.59 L558.77,63.83 L559.18,64.07 L559.59,64.31 L560.00,64.55 L560.41,64.79 L560.81,65.04 L561.22,65.28 L561.62,65.54 L562.02,65.79 L562.42,66.04 L562.82,66.30 L563.22,66.56 L563.62,66.82 L564.02,67.08 L564.41,67.34 L564.81,67.61 L565.21,67.87 L565.60,68.14 L565.99,68.42 L566.39,68.69 L566.78,68.96 L567.16,69.24 L567.55,69.52 L567.93,69.80 L568.32,70.09 L568.69,70.37 L569.07,70.66 L569.45,70.95 L569.82,71.25 L570.19,71.54 L570.55,71.84 L570.91,72.14 L571.27,72.45 L571.63,72.76 L571.98,73.07 L572.34,73.38 L572.69,73.70 L573.03,74.03 L573.38,74.36 L573.72,74.69 L574.06,75.02 L574.40,75.36 L574.74,75.70 L575.07,76.04 L575.40,76.38 L575.73,76.73 L576.06,77.07 L576.38,77.42 L576.71,77.77 L577.03,78.12 L577.35,78.47 L577.67,78.83 L577.98,79.18 L578.30,79.53 L578.61,79.89 L578.93,80.24 L579.24,80.60 L579.56,80.96 L579.87,81.32 L580.19,81.69 L580.50,82.05 L580.80,82.42 L581.11,82.79 L581.41,83.16 L581.70,83.54 L581.99,83.92 L582.27,84.30 L582.55,84.68 L582.82,85.07 L583.09,85.46 L583.34,85.85 L583.59,86.25 L583.83,86.65 L584.07,87.05 L584.30,87.46 L584.53,87.88 L584.75,88.30 L584.96,88.72 L585.18,89.14 L585.39,89.57 L585.60,90.00 L585.80,90.43 L586.01,90.87 L586.21,91.30 L586.40,91.74 L586.60,92.17 L586.80,92.61 L586.99,93.05 L587.19,93.48 L587.38,93.92 L587.58,94.35 L587.77,94.78 L587.97,95.21 L588.16,95.65 L588.36,96.08 L588.55,96.52 L588.75,96.95 L588.94,97.39 L589.13,97.82 L589.32,98.26 L589.50,98.70 L589.69,99.14 L589.87,99.58 L590.05,100.02 L590.22,100.46 L590.39,100.90 L590.56,101.35 L590.72,101.79 L590.88,102.24 L591.03,102.69 L591.18,103.14 L591.33,103.59 L591.47,104.04 L591.62,104.49 L591.76,104.94 L591.90,105.39 L592.04,105.85 L592.17,106.30 L592.30,106.76 L592.44,107.21 L592.56,107.67 L592.69,108.13 L592.81,108.59 L592.93,109.05 L593.05,109.51 L593.17,109.97 L593.28,110.44 L593.39,110.90 L593.50,111.37 L593.60,111.83 L593.70,112.30" stroke="#ea1c24" stroke-width="0.9" fill="none" stroke-linejoin="round" />
<g fill="#ea1c24"><circle cx="441.30" cy="56.30" r="1.35"/><circle cx="444.93" cy="51.26" r="1.35"/><circle cx="450.33" cy="48.28" r="1.35"/><circle cx="455.59" cy="44.89" r="1.35"/><circle cx="461.16" cy="42.37" r="1.35"/><circle cx="467.17" cy="40.72" r="1.35"/><circle cx="473.22" cy="39.41" r="1.35"/><circle cx="479.37" cy="38.61" r="1.35"/><circle cx="485.56" cy="38.33" r="1.35"/><circle cx="491.74" cy="38.83" r="1.35"/><circle cx="497.85" cy="39.88" r="1.35"/><circle cx="503.89" cy="41.30" r="1.35"/><circle cx="509.79" cy="42.55" r="1.35"/><circle cx="515.25" cy="44.48" r="1.35"/><circle cx="520.56" cy="46.13" r="1.35"/><circle cx="525.68" cy="47.66" r="1.35"/><circle cx="530.48" cy="49.43" r="1.35"/><circle cx="535.01" cy="51.37" r="1.35"/><circle cx="539.28" cy="53.38" r="1.35"/><circle cx="543.32" cy="55.47" r="1.35"/><circle cx="547.18" cy="57.55" r="1.35"/><circle cx="550.89" cy="59.56" r="1.35"/><circle cx="554.49" cy="61.47" r="1.35"/><circle cx="557.93" cy="63.35" r="1.35"/><circle cx="561.17" cy="65.25" r="1.35"/><circle cx="564.22" cy="67.22" r="1.35"/><circle cx="567.12" cy="69.21" r="1.35"/><circle cx="569.82" cy="71.25" r="1.35"/><circle cx="572.30" cy="73.35" r="1.35"/><circle cx="574.58" cy="75.54" r="1.35"/><circle cx="576.71" cy="77.77" r="1.35"/><circle cx="578.70" cy="79.99" r="1.35"/><circle cx="580.61" cy="82.19" r="1.35"/><circle cx="582.36" cy="84.41" r="1.35"/><circle cx="583.85" cy="86.67" r="1.35"/><circle cx="585.11" cy="89.02" r="1.35"/><circle cx="586.25" cy="91.40" r="1.35"/><circle cx="587.31" cy="93.76" r="1.35"/><circle cx="588.35" cy="96.07" r="1.35"/><circle cx="589.36" cy="98.36" r="1.35"/><circle cx="590.29" cy="100.63" r="1.35"/><circle cx="591.10" cy="102.88" r="1.35"/><circle cx="591.82" cy="105.14" r="1.35"/><circle cx="592.48" cy="107.38" r="1.35"/><circle cx="593.08" cy="109.62" r="1.35"/><circle cx="593.61" cy="111.86" r="1.35"/><circle cx="593.70" cy="112.30" r="1.35"/></g>
<text x="2.60" y="179.50" font-size="21" text-anchor="start" fill="#000" >d</text>
<path d="M21.50,294.90L24.10,294.90M21.50,267.70L22.90,267.70M21.50,240.50L24.10,240.50M21.50,213.30L22.90,213.30M21.50,186.10L24.10,186.10M21.64,305.60L21.64,304.20M39.00,305.60L39.00,303.00M56.36,305.60L56.36,304.20M73.71,305.60L73.71,303.00M91.07,305.60L91.07,304.20M108.43,305.60L108.43,303.00M125.78,305.60L125.78,304.20M143.14,305.60L143.14,303.00M160.50,305.60L160.50,304.20M177.86,305.60L177.86,303.00M195.21,305.60L195.21,304.20" stroke="#222" stroke-width="0.8" fill="none"/>
<rect x="21.50" y="175.80" width="174.10" height="129.80" fill="none" stroke="#222" stroke-width="1.0" />
<text x="18.80" y="297.00" font-size="6.0" text-anchor="end" fill="#000" >0.0</text>
<text x="18.80" y="242.60" font-size="6.0" text-anchor="end" fill="#000" >0.5</text>
<text x="18.80" y="188.20" font-size="6.0" text-anchor="end" fill="#000" >1.0</text>
<text x="39.00" y="313.80" font-size="6.0" text-anchor="middle" fill="#000" >480</text>
<text x="73.71" y="313.80" font-size="6.0" text-anchor="middle" fill="#000" >500</text>
<text x="108.43" y="313.80" font-size="6.0" text-anchor="middle" fill="#000" >520</text>
<text x="143.14" y="313.80" font-size="6.0" text-anchor="middle" fill="#000" >540</text>
<text x="177.86" y="313.80" font-size="6.0" text-anchor="middle" fill="#000" >560</text>
<text x="112.00" y="322.70" font-size="10.1" text-anchor="middle" fill="#000" textLength="74.2" lengthAdjust="spacingAndGlyphs" >Wavelength (nm)</text>
<text x="8.6" y="244.8" font-size="10.2" text-anchor="middle" textLength="67.6" lengthAdjust="spacingAndGlyphs" transform="rotate(-90 8.6 244.8)">Normalized EL</text>
<rect x="28.10" y="182.60" width="44.00" height="50.70" fill="#474420" stroke="none" stroke-width="1" />
<rect x="30.80" y="184.30" width="38.60" height="37.90" fill="#38ec88" stroke="none" stroke-width="1" />
<line x1="30.80" y1="185.40" x2="69.40" y2="185.40" stroke="#18a850" stroke-width="0.7"/>
<line x1="30.80" y1="186.98" x2="69.40" y2="186.98" stroke="#18a850" stroke-width="0.7"/>
<line x1="30.80" y1="188.56" x2="69.40" y2="188.56" stroke="#18a850" stroke-width="0.7"/>
<line x1="30.80" y1="190.14" x2="69.40" y2="190.14" stroke="#18a850" stroke-width="0.7"/>
<line x1="30.80" y1="191.72" x2="69.40" y2="191.72" stroke="#18a850" stroke-width="0.7"/>
<line x1="30.80" y1="193.30" x2="69.40" y2="193.30" stroke="#18a850" stroke-width="0.7"/>
<line x1="30.80" y1="194.88" x2="69.40" y2="194.88" stroke="#18a850" stroke-width="0.7"/>
<line x1="30.80" y1="196.46" x2="69.40" y2="196.46" stroke="#18a850" stroke-width="0.7"/>
<line x1="30.80" y1="198.04" x2="69.40" y2="198.04" stroke="#18a850" stroke-width="0.7"/>
<line x1="30.80" y1="199.62" x2="69.40" y2="199.62" stroke="#18a850" stroke-width="0.7"/>
<line x1="30.80" y1="201.20" x2="69.40" y2="201.20" stroke="#18a850" stroke-width="0.7"/>
<line x1="30.80" y1="202.78" x2="69.40" y2="202.78" stroke="#18a850" stroke-width="0.7"/>
<line x1="30.80" y1="204.36" x2="69.40" y2="204.36" stroke="#18a850" stroke-width="0.7"/>
<line x1="30.80" y1="205.94" x2="69.40" y2="205.94" stroke="#18a850" stroke-width="0.7"/>
<line x1="30.80" y1="207.52" x2="69.40" y2="207.52" stroke="#18a850" stroke-width="0.7"/>
<line x1="30.80" y1="209.10" x2="69.40" y2="209.10" stroke="#18a850" stroke-width="0.7"/>
<line x1="30.80" y1="210.68" x2="69.40" y2="210.68" stroke="#18a850" stroke-width="0.7"/>
<line x1="30.80" y1="212.26" x2="69.40" y2="212.26" stroke="#18a850" stroke-width="0.7"/>
<line x1="30.80" y1="213.84" x2="69.40" y2="213.84" stroke="#18a850" stroke-width="0.7"/>
<line x1="30.80" y1="215.42" x2="69.40" y2="215.42" stroke="#18a850" stroke-width="0.7"/>
<line x1="30.80" y1="217.00" x2="69.40" y2="217.00" stroke="#18a850" stroke-width="0.7"/>
<line x1="30.80" y1="218.58" x2="69.40" y2="218.58" stroke="#18a850" stroke-width="0.7"/>
<line x1="30.80" y1="220.16" x2="69.40" y2="220.16" stroke="#18a850" stroke-width="0.7"/>
<line x1="30.80" y1="221.74" x2="69.40" y2="221.74" stroke="#18a850" stroke-width="0.7"/>
<rect x="30.80" y="222.20" width="12.40" height="9.40" fill="#5a5a36" stroke="none" stroke-width="1" />
<rect x="56.60" y="222.20" width="12.80" height="9.40" fill="#5a5a36" stroke="none" stroke-width="1" />
<rect x="43.20" y="222.20" width="13.40" height="8.60" fill="#38ec88" stroke="none" stroke-width="1" />
<line x1="43.20" y1="223.20" x2="56.60" y2="223.20" stroke="#18a850" stroke-width="0.7"/>
<line x1="43.20" y1="224.78" x2="56.60" y2="224.78" stroke="#18a850" stroke-width="0.7"/>
<line x1="43.20" y1="226.36" x2="56.60" y2="226.36" stroke="#18a850" stroke-width="0.7"/>
<line x1="43.20" y1="227.94" x2="56.60" y2="227.94" stroke="#18a850" stroke-width="0.7"/>
<line x1="43.20" y1="229.52" x2="56.60" y2="229.52" stroke="#18a850" stroke-width="0.7"/>
<rect x="43.20" y="230.80" width="13.40" height="2.50" fill="#101008" stroke="none" stroke-width="1" />
<path d="M22.00,294.14 L22.50,294.12 L23.00,294.10 L23.50,294.07 L24.00,294.05 L24.50,294.03 L25.00,294.01 L25.50,293.98 L26.00,293.96 L26.50,293.93 L27.00,293.91 L27.50,293.88 L28.00,293.85 L28.50,293.82 L29.00,293.79 L29.50,293.76 L30.00,293.73 L30.50,293.70 L31.00,293.66 L31.50,293.63 L32.00,293.59 L32.50,293.55 L33.00,293.51 L33.50,293.47 L34.00,293.43 L34.50,293.39 L35.00,293.34 L35.50,293.30 L36.00,293.25 L36.50,293.20 L37.00,293.14 L37.50,293.09 L38.00,293.03 L38.50,292.97 L39.00,292.91 L39.50,292.85 L40.00,292.78 L40.50,292.71 L41.00,292.64 L41.50,292.57 L42.00,292.49 L42.50,292.41 L43.00,292.33 L43.50,292.24 L44.00,292.15 L44.50,292.06 L45.00,291.96 L45.50,291.86 L46.00,291.75 L46.50,291.64 L47.00,291.53 L47.50,291.41 L48.00,291.28 L48.50,291.15 L49.00,291.02 L49.50,290.87 L50.00,290.73 L50.50,290.57 L51.00,290.41 L51.50,290.24 L52.00,290.06 L52.50,289.88 L53.00,289.68 L53.50,289.48 L54.00,289.27 L54.50,289.05 L55.00,288.82 L55.50,288.58 L56.00,288.32 L56.50,288.06 L57.00,287.78 L57.50,287.49 L58.00,287.18 L58.50,286.86 L59.00,286.53 L59.50,286.17 L60.00,285.80 L60.50,285.42 L61.00,285.01 L61.50,284.59 L62.00,284.14 L62.50,283.67 L63.00,283.18 L63.50,282.66 L64.00,282.12 L64.50,281.55 L65.00,280.95 L65.50,280.33 L66.00,279.67 L66.50,278.98 L67.00,278.25 L67.50,277.49 L68.00,276.69 L68.50,275.85 L69.00,274.97 L69.50,274.05 L70.00,273.08 L70.50,272.07 L71.00,271.01 L71.50,269.89 L72.00,268.73 L72.50,267.51 L73.00,266.23 L73.50,264.90 L74.00,263.51 L74.50,262.05 L75.00,260.54 L75.50,258.96 L76.00,257.31 L76.50,255.60 L77.00,253.83 L77.50,251.99 L78.00,250.08 L78.50,248.11 L79.00,246.08 L79.50,243.98 L80.00,241.82 L80.50,239.61 L81.00,237.34 L81.50,235.02 L82.00,232.66 L82.50,230.25 L83.00,227.82 L83.50,225.36 L84.00,222.88 L84.50,220.39 L85.00,217.90 L85.50,215.43 L86.00,212.97 L86.50,210.55 L87.00,208.17 L87.50,205.85 L88.00,203.60 L88.50,201.43 L89.00,199.36 L89.50,197.40 L90.00,195.56 L90.50,193.85 L91.00,192.29 L91.50,190.88 L92.00,189.64 L92.50,188.58 L93.00,187.69 L93.50,187.00 L94.00,186.50 L94.50,186.20 L95.00,186.10 L95.50,187.07 L96.00,188.11 L96.50,189.21 L97.00,190.37 L97.50,191.60 L98.00,192.88 L98.50,194.22 L99.00,195.61 L99.50,197.04 L100.00,198.52 L100.50,200.04 L101.00,201.59 L101.50,203.17 L102.00,204.79 L102.50,206.42 L103.00,208.08 L103.50,209.75 L104.00,211.44 L104.50,213.14 L105.00,214.84 L105.50,216.55 L106.00,218.25 L106.50,219.96 L107.00,221.65 L107.50,223.34 L108.00,225.02 L108.50,226.68 L109.00,228.33 L109.50,229.96 L110.00,231.57 L110.50,233.16 L111.00,234.73 L111.50,236.27 L112.00,237.79 L112.50,239.29 L113.00,240.75 L113.50,242.19 L114.00,243.60 L114.50,244.99 L115.00,246.34 L115.50,247.66 L116.00,248.96 L116.50,250.23 L117.00,251.46 L117.50,252.67 L118.00,253.85 L118.50,255.00 L119.00,256.12 L119.50,257.21 L120.00,258.27 L120.50,259.30 L121.00,260.31 L121.50,261.29 L122.00,262.25 L122.50,263.17 L123.00,264.08 L123.50,264.95 L124.00,265.81 L124.50,266.63 L125.00,267.44 L125.50,268.22 L126.00,268.98 L126.50,269.72 L127.00,270.43 L127.50,271.13 L128.00,271.80 L128.50,272.46 L129.00,273.09 L129.50,273.71 L130.00,274.31 L130.50,274.89 L131.00,275.45 L131.50,276.00 L132.00,276.53 L132.50,277.05 L133.00,277.55 L133.50,278.03 L134.00,278.50 L134.50,278.96 L135.00,279.40 L135.50,279.83 L136.00,280.25 L136.50,280.65 L137.00,281.04 L137.50,281.43 L138.00,281.80 L138.50,282.15 L139.00,282.50 L139.50,282.84 L140.00,283.17 L140.50,283.49 L141.00,283.80 L141.50,284.10 L142.00,284.39 L142.50,284.67 L143.00,284.95 L143.50,285.21 L144.00,285.47 L144.50,285.72 L145.00,285.97 L145.50,286.20 L146.00,286.43 L146.50,286.66 L147.00,286.87 L147.50,287.08 L148.00,287.29 L148.50,287.49 L149.00,287.68 L149.50,287.87 L150.00,288.05 L150.50,288.23 L151.00,288.40 L151.50,288.57 L152.00,288.73 L152.50,288.89 L153.00,289.04 L153.50,289.19 L154.00,289.34 L154.50,289.48 L155.00,289.62 L155.50,289.75 L156.00,289.88 L156.50,290.01 L157.00,290.13 L157.50,290.25 L158.00,290.37 L158.50,290.48 L159.00,290.59 L159.50,290.70 L160.00,290.80 L160.50,290.90 L161.00,291.00 L161.50,291.10 L162.00,291.19 L162.50,291.28 L163.00,291.37 L163.50,291.46 L164.00,291.54 L164.50,291.62 L165.00,291.70 L165.50,291.78 L166.00,291.85 L166.50,291.93 L167.00,292.00 L167.50,292.07 L168.00,292.14 L168.50,292.20 L169.00,292.27 L169.50,292.33 L170.00,292.39 L170.50,292.45 L171.00,292.51 L171.50,292.56 L172.00,292.62 L172.50,292.67 L173.00,292.73 L173.50,292.78 L174.00,292.83 L174.50,292.87 L175.00,292.92 L175.50,292.97 L176.00,293.01 L176.50,293.06 L177.00,293.10 L177.50,293.14 L178.00,293.18 L178.50,293.22 L179.00,293.26 L179.50,293.30 L180.00,293.33 L180.50,293.37 L181.00,293.40 L181.50,293.44 L182.00,293.47 L182.50,293.50 L183.00,293.53 L183.50,293.57 L184.00,293.60 L184.50,293.62 L185.00,293.65 L185.50,293.68 L186.00,293.71 L186.50,293.74 L187.00,293.76 L187.50,293.79 L188.00,293.81 L188.50,293.84 L189.00,293.86 L189.50,293.88 L190.00,293.90 L190.50,293.93 L191.00,293.95 L191.50,293.97 L192.00,293.99 L192.50,294.01 L193.00,294.03 L193.50,294.05 L194.00,294.07 L194.50,294.08 L195.00,294.10" stroke="#22e622" stroke-width="1.3" fill="none" stroke-linejoin="round" />
<path d="M22.00,293.74 L22.50,293.71 L23.00,293.68 L23.50,293.64 L24.00,293.61 L24.50,293.57 L25.00,293.53 L25.50,293.50 L26.00,293.46 L26.50,293.42 L27.00,293.37 L27.50,293.33 L28.00,293.28 L28.50,293.24 L29.00,293.19 L29.50,293.14 L30.00,293.08 L30.50,293.03 L31.00,292.97 L31.50,292.91 L32.00,292.85 L32.50,292.79 L33.00,292.72 L33.50,292.66 L34.00,292.59 L34.50,292.51 L35.00,292.44 L35.50,292.36 L36.00,292.28 L36.50,292.19 L37.00,292.10 L37.50,292.01 L38.00,291.91 L38.50,291.82 L39.00,291.71 L39.50,291.60 L40.00,291.49 L40.50,291.38 L41.00,291.25 L41.50,291.13 L42.00,291.00 L42.50,290.86 L43.00,290.71 L43.50,290.57 L44.00,290.41 L44.50,290.25 L45.00,290.08 L45.50,289.90 L46.00,289.72 L46.50,289.52 L47.00,289.32 L47.50,289.11 L48.00,288.89 L48.50,288.66 L49.00,288.42 L49.50,288.17 L50.00,287.91 L50.50,287.64 L51.00,287.35 L51.50,287.05 L52.00,286.74 L52.50,286.41 L53.00,286.07 L53.50,285.71 L54.00,285.34 L54.50,284.94 L55.00,284.53 L55.50,284.10 L56.00,283.65 L56.50,283.17 L57.00,282.68 L57.50,282.16 L58.00,281.61 L58.50,281.04 L59.00,280.44 L59.50,279.82 L60.00,279.16 L60.50,278.47 L61.00,277.75 L61.50,277.00 L62.00,276.21 L62.50,275.38 L63.00,274.52 L63.50,273.61 L64.00,272.66 L64.50,271.67 L65.00,270.63 L65.50,269.54 L66.00,268.41 L66.50,267.22 L67.00,265.99 L67.50,264.70 L68.00,263.35 L68.50,261.95 L69.00,260.49 L69.50,258.97 L70.00,257.39 L70.50,255.75 L71.00,254.06 L71.50,252.30 L72.00,250.48 L72.50,248.60 L73.00,246.66 L73.50,244.66 L74.00,242.61 L74.50,240.50 L75.00,238.34 L75.50,236.14 L76.00,233.89 L76.50,231.60 L77.00,229.27 L77.50,226.92 L78.00,224.55 L78.50,222.17 L79.00,219.78 L79.50,217.39 L80.00,215.01 L80.50,212.66 L81.00,210.33 L81.50,208.05 L82.00,205.82 L82.50,203.66 L83.00,201.58 L83.50,199.58 L84.00,197.68 L84.50,195.89 L85.00,194.22 L85.50,192.69 L86.00,191.29 L86.50,190.05 L87.00,188.96 L87.50,188.04 L88.00,187.30 L88.50,186.73 L89.00,186.34 L89.50,186.13 L90.00,186.15 L90.50,186.35 L91.00,186.70 L91.50,187.17 L92.00,187.78 L92.50,188.51 L93.00,189.37 L93.50,190.34 L94.00,191.43 L94.50,192.62 L95.00,193.91 L95.50,195.29 L96.00,196.76 L96.50,198.30 L97.00,199.92 L97.50,201.60 L98.00,203.33 L98.50,205.11 L99.00,206.93 L99.50,208.78 L100.00,210.66 L100.50,212.56 L101.00,214.47 L101.50,216.39 L102.00,218.32 L102.50,220.24 L103.00,222.15 L103.50,224.05 L104.00,225.94 L104.50,227.81 L105.00,229.66 L105.50,231.48 L106.00,233.27 L106.50,235.03 L107.00,236.77 L107.50,238.47 L108.00,240.13 L108.50,241.76 L109.00,243.35 L109.50,244.91 L110.00,246.43 L110.50,247.91 L111.00,249.35 L111.50,250.76 L112.00,252.12 L112.50,253.45 L113.00,254.74 L113.50,256.00 L114.00,257.21 L114.50,258.39 L115.00,259.54 L115.50,260.65 L116.00,261.73 L116.50,262.77 L117.00,263.78 L117.50,264.76 L118.00,265.71 L118.50,266.63 L119.00,267.52 L119.50,268.38 L120.00,269.21 L120.50,270.01 L121.00,270.79 L121.50,271.54 L122.00,272.27 L122.50,272.98 L123.00,273.66 L123.50,274.31 L124.00,274.95 L124.50,275.56 L125.00,276.16 L125.50,276.73 L126.00,277.29 L126.50,277.82 L127.00,278.34 L127.50,278.84 L128.00,279.33 L128.50,279.80 L129.00,280.25 L129.50,280.69 L130.00,281.11 L130.50,281.52 L131.00,281.92 L131.50,282.30 L132.00,282.67 L132.50,283.03 L133.00,283.37 L133.50,283.71 L134.00,284.03 L134.50,284.35 L135.00,284.65 L135.50,284.94 L136.00,285.23 L136.50,285.50 L137.00,285.77 L137.50,286.02 L138.00,286.27 L138.50,286.51 L139.00,286.75 L139.50,286.97 L140.00,287.19 L140.50,287.40 L141.00,287.61 L141.50,287.81 L142.00,288.00 L142.50,288.18 L143.00,288.37 L143.50,288.54 L144.00,288.71 L144.50,288.87 L145.00,289.03 L145.50,289.19 L146.00,289.34 L146.50,289.48 L147.00,289.62 L147.50,289.76 L148.00,289.89 L148.50,290.02 L149.00,290.15 L149.50,290.27 L150.00,290.38 L150.50,290.50 L151.00,290.61 L151.50,290.72 L152.00,290.82 L152.50,290.92 L153.00,291.02 L153.50,291.11 L154.00,291.21 L154.50,291.30 L155.00,291.38 L155.50,291.47 L156.00,291.55 L156.50,291.63 L157.00,291.71 L157.50,291.79 L158.00,291.86 L158.50,291.93 L159.00,292.00 L159.50,292.07 L160.00,292.13 L160.50,292.20 L161.00,292.26 L161.50,292.32 L162.00,292.38 L162.50,292.44 L163.00,292.49 L163.50,292.55 L164.00,292.60 L164.50,292.65 L165.00,292.70 L165.50,292.75 L166.00,292.80 L166.50,292.84 L167.00,292.89 L167.50,292.93 L168.00,292.98 L168.50,293.02 L169.00,293.06 L169.50,293.10 L170.00,293.14 L170.50,293.17 L171.00,293.21 L171.50,293.25 L172.00,293.28 L172.50,293.31 L173.00,293.35 L173.50,293.38 L174.00,293.41 L174.50,293.44 L175.00,293.47 L175.50,293.50 L176.00,293.53 L176.50,293.56 L177.00,293.58 L177.50,293.61 L178.00,293.64 L178.50,293.66 L179.00,293.69 L179.50,293.71 L180.00,293.73 L180.50,293.76 L181.00,293.78 L181.50,293.80 L182.00,293.82 L182.50,293.84 L183.00,293.86 L183.50,293.88 L184.00,293.90 L184.50,293.92 L185.00,293.94 L185.50,293.96 L186.00,293.98 L186.50,293.99 L187.00,294.01 L187.50,294.03 L188.00,294.04 L188.50,294.06 L189.00,294.07 L189.50,294.09 L190.00,294.10 L190.50,294.12 L191.00,294.13 L191.50,294.15 L192.00,294.16 L192.50,294.17 L193.00,294.19 L193.50,294.20 L194.00,294.21 L194.50,294.22 L195.00,294.24" stroke="#ea1c24" stroke-width="1.3" fill="none" stroke-linejoin="round" />
<line x1="137.40" y1="188.00" x2="152.10" y2="188.00" stroke="#22e622" stroke-width="1.3"/>
<line x1="137.40" y1="196.10" x2="152.10" y2="196.10" stroke="#ea1c24" stroke-width="1.3"/>
<text x="154.00" y="190.30" font-size="6.45" text-anchor="start" fill="#000" textLength="21.5" lengthAdjust="spacingAndGlyphs" >Pristine</text>
<text x="154.0" y="198.5" font-size="6.45" text-anchor="start" textLength="25.6" lengthAdjust="spacingAndGlyphs">6% SrBr</text><text x="179.7" y="200.0" font-size="4.6">2</text>
<text x="201.80" y="175.00" font-size="21" text-anchor="start" fill="#000" >e</text>
<path d="M216.10,299.50L218.70,299.50M216.10,285.80L217.50,285.80M216.10,272.10L218.70,272.10M216.10,258.40L217.50,258.40M216.10,244.70L218.70,244.70M216.10,231.00L217.50,231.00M216.10,217.30L218.70,217.30M216.10,203.60L217.50,203.60M216.10,189.90L218.70,189.90M216.10,176.20L217.50,176.20M216.10,299.50L216.10,296.90M228.96,299.50L228.96,298.10M241.83,299.50L241.83,296.90M254.69,299.50L254.69,298.10M267.56,299.50L267.56,296.90M280.42,299.50L280.42,298.10M293.29,299.50L293.29,296.90M306.15,299.50L306.15,298.10M319.01,299.50L319.01,296.90M331.88,299.50L331.88,298.10M344.74,299.50L344.74,296.90M357.61,299.50L357.61,298.10M370.47,299.50L370.47,296.90M383.34,299.50L383.34,298.10M396.20,299.50L396.20,296.90" stroke="#222" stroke-width="0.8" fill="none"/>
<defs><pattern id="hatch" width="2.4" height="2.4" patternUnits="userSpaceOnUse" patternTransform="rotate(45)"><rect width="2.4" height="2.4" fill="#fbe6e8"/><line x1="0" y1="0" x2="0" y2="2.4" stroke="#f4bcbc" stroke-width="0.7"/><line x1="0" y1="0" x2="2.4" y2="0" stroke="#f4c4c8" stroke-width="0.6"/></pattern></defs>
<rect x="244.40" y="285.80" width="20.58" height="13.70" fill="url(#hatch)" stroke="#f04848" stroke-width="1.2" />
<rect x="270.13" y="217.30" width="20.58" height="82.20" fill="url(#hatch)" stroke="#f04848" stroke-width="1.2" />
<rect x="295.86" y="189.90" width="20.58" height="109.60" fill="url(#hatch)" stroke="#f04848" stroke-width="1.2" />
<rect x="321.59" y="231.00" width="20.58" height="68.50" fill="url(#hatch)" stroke="#f04848" stroke-width="1.2" />
<rect x="347.32" y="272.10" width="20.58" height="27.40" fill="url(#hatch)" stroke="#f04848" stroke-width="1.2" />
<rect x="216.10" y="175.70" width="180.10" height="123.80" fill="none" stroke="#222" stroke-width="1.0" />
<path d="M216.10,299.18 L216.60,299.16 L217.10,299.13 L217.60,299.11 L218.10,299.08 L218.60,299.06 L219.10,299.03 L219.60,299.00 L220.10,298.96 L220.60,298.93 L221.10,298.89 L221.60,298.85 L222.10,298.81 L222.60,298.77 L223.10,298.72 L223.60,298.67 L224.10,298.62 L224.60,298.57 L225.10,298.51 L225.60,298.45 L226.10,298.39 L226.60,298.32 L227.10,298.25 L227.60,298.18 L228.10,298.10 L228.60,298.02 L229.10,297.93 L229.60,297.84 L230.10,297.75 L230.60,297.65 L231.10,297.54 L231.60,297.44 L232.10,297.32 L232.60,297.20 L233.10,297.07 L233.60,296.94 L234.10,296.80 L234.60,296.66 L235.10,296.51 L235.60,296.35 L236.10,296.19 L236.60,296.01 L237.10,295.83 L237.60,295.65 L238.10,295.45 L238.60,295.25 L239.10,295.03 L239.60,294.81 L240.10,294.58 L240.60,294.34 L241.10,294.09 L241.60,293.83 L242.10,293.56 L242.60,293.27 L243.10,292.98 L243.60,292.68 L244.10,292.36 L244.60,292.04 L245.10,291.70 L245.60,291.35 L246.10,290.98 L246.60,290.60 L247.10,290.21 L247.60,289.81 L248.10,289.39 L248.60,288.96 L249.10,288.51 L249.60,288.05 L250.10,287.58 L250.60,287.09 L251.10,286.58 L251.60,286.06 L252.10,285.52 L252.60,284.96 L253.10,284.39 L253.60,283.81 L254.10,283.20 L254.60,282.58 L255.10,281.94 L255.60,281.29 L256.10,280.61 L256.60,279.92 L257.10,279.21 L257.60,278.49 L258.10,277.74 L258.60,276.98 L259.10,276.20 L259.60,275.40 L260.10,274.58 L260.60,273.75 L261.10,272.90 L261.60,272.03 L262.10,271.14 L262.60,270.23 L263.10,269.30 L263.60,268.36 L264.10,267.40 L264.60,266.42 L265.10,265.43 L265.60,264.42 L266.10,263.39 L266.60,262.35 L267.10,261.28 L267.60,260.21 L268.10,259.12 L268.60,258.01 L269.10,256.89 L269.60,255.75 L270.10,254.60 L270.60,253.44 L271.10,252.27 L271.60,251.08 L272.10,249.88 L272.60,248.67 L273.10,247.45 L273.60,246.23 L274.10,244.99 L274.60,243.74 L275.10,242.49 L275.60,241.23 L276.10,239.96 L276.60,238.69 L277.10,237.42 L277.60,236.14 L278.10,234.86 L278.60,233.58 L279.10,232.30 L279.60,231.02 L280.10,229.73 L280.60,228.46 L281.10,227.18 L281.60,225.91 L282.10,224.65 L282.60,223.39 L283.10,222.14 L283.60,220.90 L284.10,219.66 L284.60,218.44 L285.10,217.23 L285.60,216.03 L286.10,214.85 L286.60,213.68 L287.10,212.53 L287.60,211.39 L288.10,210.28 L288.60,209.18 L289.10,208.10 L289.60,207.04 L290.10,206.01 L290.60,205.00 L291.10,204.01 L291.60,203.05 L292.10,202.12 L292.60,201.21 L293.10,200.33 L293.60,199.48 L294.10,198.67 L294.60,197.88 L295.10,197.12 L295.60,196.40 L296.10,195.71 L296.60,195.05 L297.10,194.43 L297.60,193.84 L298.10,193.29 L298.60,192.78 L299.10,192.30 L299.60,191.86 L300.10,191.46 L300.60,191.10 L301.10,190.78 L301.60,190.49 L302.10,190.25 L302.60,190.04 L303.10,189.88 L303.60,189.76 L304.10,189.67 L304.60,189.63 L305.10,189.63 L305.60,189.66 L306.10,189.74 L306.60,189.84 L307.10,189.99 L307.60,190.17 L308.10,190.38 L308.60,190.63 L309.10,190.92 L309.60,191.24 L310.10,191.59 L310.60,191.98 L311.10,192.40 L311.60,192.86 L312.10,193.35 L312.60,193.87 L313.10,194.43 L313.60,195.02 L314.10,195.63 L314.60,196.28 L315.10,196.96 L315.60,197.66 L316.10,198.40 L316.60,199.16 L317.10,199.95 L317.60,200.77 L318.10,201.61 L318.60,202.48 L319.10,203.37 L319.60,204.28 L320.10,205.22 L320.60,206.18 L321.10,207.15 L321.60,208.15 L322.10,209.17 L322.60,210.21 L323.10,211.26 L323.60,212.33 L324.10,213.41 L324.60,214.51 L325.10,215.63 L325.60,216.75 L326.10,217.89 L326.60,219.04 L327.10,220.19 L327.60,221.36 L328.10,222.54 L328.60,223.72 L329.10,224.91 L329.60,226.11 L330.10,227.30 L330.60,228.51 L331.10,229.71 L331.60,230.92 L332.10,232.13 L332.60,233.34 L333.10,234.55 L333.60,235.76 L334.10,236.97 L334.60,238.17 L335.10,239.37 L335.60,240.57 L336.10,241.76 L336.60,242.95 L337.10,244.13 L337.60,245.30 L338.10,246.47 L338.60,247.63 L339.10,248.78 L339.60,249.92 L340.10,251.05 L340.60,252.17 L341.10,253.28 L341.60,254.38 L342.10,255.47 L342.60,256.54 L343.10,257.61 L343.60,258.66 L344.10,259.69 L344.60,260.72 L345.10,261.73 L345.60,262.72 L346.10,263.70 L346.60,264.67 L347.10,265.62 L347.60,266.56 L348.10,267.48 L348.60,268.38 L349.10,269.27 L349.60,270.15 L350.10,271.00 L350.60,271.85 L351.10,272.67 L351.60,273.48 L352.10,274.28 L352.60,275.06 L353.10,275.82 L353.60,276.56 L354.10,277.29 L354.60,278.00 L355.10,278.70 L355.60,279.38 L356.10,280.05 L356.60,280.70 L357.10,281.33 L357.60,281.95 L358.10,282.55 L358.60,283.14 L359.10,283.71 L359.60,284.27 L360.10,284.81 L360.60,285.34 L361.10,285.85 L361.60,286.35 L362.10,286.84 L362.60,287.31 L363.10,287.77 L363.60,288.21 L364.10,288.64 L364.60,289.06 L365.10,289.46 L365.60,289.86 L366.10,290.24 L366.60,290.60 L367.10,290.96 L367.60,291.31 L368.10,291.64 L368.60,291.96 L369.10,292.27 L369.60,292.57 L370.10,292.86 L370.60,293.15 L371.10,293.42 L371.60,293.68 L372.10,293.93 L372.60,294.17 L373.10,294.41 L373.60,294.63 L374.10,294.85 L374.60,295.06 L375.10,295.26 L375.60,295.45 L376.10,295.63 L376.60,295.81 L377.10,295.98 L377.60,296.15 L378.10,296.30 L378.60,296.46 L379.10,296.60 L379.60,296.74 L380.10,296.87 L380.60,297.00 L381.10,297.12 L381.60,297.24 L382.10,297.35 L382.60,297.46 L383.10,297.56 L383.60,297.66 L384.10,297.75 L384.60,297.84 L385.10,297.93 L385.60,298.01 L386.10,298.09 L386.60,298.16 L387.10,298.23 L387.60,298.30 L388.10,298.36 L388.60,298.42 L389.10,298.48 L389.60,298.54 L390.10,298.59 L390.60,298.64 L391.10,298.69 L391.60,298.73 L392.10,298.77 L392.60,298.81 L393.10,298.85 L393.60,298.89 L394.10,298.92 L394.60,298.96 L395.10,298.99 L395.60,299.02 L396.10,299.05" stroke="#e8141c" stroke-width="1.4" fill="none" stroke-linejoin="round" />
<text x="214.20" y="301.90" font-size="6.0" text-anchor="end" fill="#000" >0</text>
<text x="214.20" y="274.50" font-size="6.0" text-anchor="end" fill="#000" >2</text>
<text x="214.20" y="247.10" font-size="6.0" text-anchor="end" fill="#000" >4</text>
<text x="214.20" y="219.70" font-size="6.0" text-anchor="end" fill="#000" >6</text>
<text x="214.20" y="192.30" font-size="6.0" text-anchor="end" fill="#000" >8</text>
<text x="216.10" y="307.00" font-size="6.0" text-anchor="middle" fill="#000" >8</text>
<text x="241.83" y="307.00" font-size="6.0" text-anchor="middle" fill="#000" >9</text>
<text x="267.56" y="307.00" font-size="6.0" text-anchor="middle" fill="#000" >10</text>
<text x="293.29" y="307.00" font-size="6.0" text-anchor="middle" fill="#000" >11</text>
<text x="319.01" y="307.00" font-size="6.0" text-anchor="middle" fill="#000" >12</text>
<text x="344.74" y="307.00" font-size="6.0" text-anchor="middle" fill="#000" >13</text>
<text x="370.47" y="307.00" font-size="6.0" text-anchor="middle" fill="#000" >14</text>
<text x="396.20" y="307.00" font-size="6.0" text-anchor="middle" fill="#000" >15</text>
<text x="304.30" y="316.20" font-size="9.6" text-anchor="middle" fill="#000" textLength="38.0" lengthAdjust="spacingAndGlyphs" >EQE (%)</text>
<text x="208.0" y="240.8" font-size="10" text-anchor="middle" textLength="36.4" lengthAdjust="spacingAndGlyphs" transform="rotate(-90 208.0 240.8)">Counts</text>
<text x="414.00" y="184.20" font-size="23" text-anchor="start" fill="#000" >f</text>
<path d="M437.40,292.00L440.00,292.00M437.40,281.38L438.80,281.38M437.40,270.76L440.00,270.76M437.40,260.14L438.80,260.14M437.40,249.52L440.00,249.52M437.40,238.90L438.80,238.90M437.40,228.28L440.00,228.28M437.40,217.66L438.80,217.66M437.40,207.04L440.00,207.04M437.40,196.42L438.80,196.42M437.40,185.80L440.00,185.80M437.40,303.10L437.40,300.50M451.77,303.10L451.77,301.70M466.13,303.10L466.13,300.50M480.50,303.10L480.50,301.70M494.87,303.10L494.87,300.50M509.23,303.10L509.23,301.70M523.60,303.10L523.60,300.50M537.97,303.10L537.97,301.70M552.33,303.10L552.33,300.50M566.70,303.10L566.70,301.70M581.07,303.10L581.07,300.50M595.43,303.10L595.43,301.70M609.80,303.10L609.80,300.50" stroke="#222" stroke-width="0.8" fill="none"/>
<rect x="437.40" y="175.30" width="172.40" height="127.80" fill="none" stroke="#222" stroke-width="1.0" />
<text x="433.60" y="294.10" font-size="6.0" text-anchor="end" fill="#000" >300</text>
<text x="433.60" y="272.86" font-size="6.0" text-anchor="end" fill="#000" >400</text>
<text x="433.60" y="251.62" font-size="6.0" text-anchor="end" fill="#000" >500</text>
<text x="433.60" y="230.38" font-size="6.0" text-anchor="end" fill="#000" >600</text>
<text x="433.60" y="209.14" font-size="6.0" text-anchor="end" fill="#000" >700</text>
<text x="433.60" y="187.90" font-size="6.0" text-anchor="end" fill="#000" >800</text>
<text x="437.40" y="311.00" font-size="6.0" text-anchor="middle" fill="#000" >0</text>
<text x="466.13" y="311.00" font-size="6.0" text-anchor="middle" fill="#000" >200</text>
<text x="494.87" y="311.00" font-size="6.0" text-anchor="middle" fill="#000" >400</text>
<text x="523.60" y="311.00" font-size="6.0" text-anchor="middle" fill="#000" >600</text>
<text x="552.33" y="311.00" font-size="6.0" text-anchor="middle" fill="#000" >800</text>
<text x="581.07" y="311.00" font-size="6.0" text-anchor="middle" fill="#000" >1000</text>
<text x="609.80" y="311.00" font-size="6.0" text-anchor="middle" fill="#000" >1200</text>
<text x="528.90" y="321.80" font-size="10.2" text-anchor="middle" fill="#000" textLength="34.6" lengthAdjust="spacingAndGlyphs" >Time (s)</text>
<text x="419.5" y="242.7" font-size="10.3" text-anchor="middle" transform="rotate(-90 419.5 242.7)">L (cd/m<tspan font-size="8" dy="-3.5">2</tspan><tspan dy="3.5">)</tspan></text>
<path d="M437.40,199.61 L437.53,198.03 L437.67,196.69 L437.80,195.72 L437.94,194.91 L438.07,194.24 L438.20,193.78 L438.34,193.54 L438.47,193.36 L438.61,193.26 L438.74,193.24 L438.88,193.33 L439.01,193.50 L439.14,193.76 L439.28,194.07 L439.41,194.43 L439.55,194.83 L439.68,195.26 L439.81,195.69 L439.95,196.12 L440.08,196.53 L440.22,196.91 L440.35,197.26 L440.49,197.61 L440.62,197.96 L440.75,198.31 L440.89,198.67 L441.02,199.03 L441.16,199.40 L441.29,199.76 L441.42,200.13 L441.56,200.50 L441.69,200.87 L441.83,201.25 L441.96,201.62 L442.10,202.00 L442.23,202.37 L442.36,202.75 L442.50,203.12 L442.63,203.50 L442.77,203.87 L442.90,204.24 L443.03,204.61 L443.17,204.98 L443.30,205.35 L443.44,205.71 L443.57,206.08 L443.71,206.46 L443.84,206.83 L443.97,207.20 L444.11,207.57 L444.24,207.94 L444.38,208.32 L444.51,208.69 L444.64,209.06 L444.78,209.43 L444.91,209.80 L445.05,210.17 L445.18,210.53 L445.32,210.90 L445.45,211.26 L445.58,211.62 L445.72,211.98 L445.85,212.33 L445.99,212.69 L446.12,213.04 L446.25,213.39 L446.39,213.74 L446.52,214.09 L446.66,214.44 L446.79,214.79 L446.93,215.14 L447.06,215.49 L447.19,215.84 L447.33,216.19 L447.46,216.54 L447.60,216.89 L447.73,217.24 L447.86,217.58 L448.00,217.93 L448.13,218.27 L448.27,218.62 L448.40,218.96 L448.54,219.30 L448.67,219.64 L448.80,219.98 L448.94,220.32 L449.07,220.66 L449.21,220.99 L449.34,221.32 L449.47,221.66 L449.61,221.99 L449.74,222.31 L449.88,222.64 L450.01,222.97 L450.15,223.29 L450.28,223.61 L450.41,223.93 L450.55,224.24 L450.68,224.56 L450.82,224.87 L450.95,225.18 L451.08,225.49 L451.22,225.79 L451.35,226.09 L451.49,226.39 L451.62,226.69 L451.76,226.98 L451.89,227.27 L452.02,227.56 L452.16,227.85 L452.29,228.14 L452.43,228.43 L452.56,228.72 L452.69,229.00 L452.83,229.29 L452.96,229.57 L453.10,229.85 L453.23,230.13 L453.37,230.41 L453.50,230.69 L453.63,230.97 L453.77,231.25 L453.90,231.52 L454.04,231.80 L454.17,232.07 L454.30,232.34 L454.44,232.61 L454.57,232.88 L454.71,233.15 L454.84,233.42 L454.98,233.68 L455.11,233.95 L455.24,234.21 L455.38,234.47 L455.51,234.73 L455.65,234.99 L455.78,235.24 L455.91,235.50 L456.05,235.75 L456.18,236.00 L456.32,236.25 L456.45,236.50 L456.59,236.75 L456.72,236.99 L456.85,237.24 L456.99,237.48 L457.12,237.72 L457.26,237.96 L457.39,238.20 L457.52,238.43 L457.66,238.66 L457.79,238.90 L457.93,239.13 L458.06,239.35 L458.20,239.58 L458.33,239.80 L458.46,240.02 L458.60,240.24 L458.73,240.46 L458.87,240.68 L459.00,240.89 L459.13,241.10 L459.27,241.31 L459.40,241.52 L459.54,241.73 L459.67,241.94 L459.81,242.14 L459.94,242.34 L460.07,242.55 L460.21,242.74 L460.34,242.94 L460.48,243.14 L460.61,243.34 L460.74,243.53 L460.88,243.72 L461.01,243.91 L461.15,244.10 L461.28,244.29 L461.42,244.48 L461.55,244.67 L461.68,244.85 L461.82,245.04 L461.95,245.22 L462.09,245.41 L462.22,245.59 L462.35,245.77 L462.49,245.95 L462.62,246.13 L462.76,246.30 L462.89,246.48 L463.03,246.66 L463.16,246.83 L463.29,247.01 L463.43,247.18 L463.56,247.35 L463.70,247.53 L463.83,247.70 L463.96,247.87 L464.10,248.04 L464.23,248.21 L464.37,248.38 L464.50,248.55 L464.64,248.72 L464.77,248.89 L464.90,249.06 L465.04,249.22 L465.17,249.39 L465.31,249.56 L465.44,249.72 L465.57,249.89 L465.71,250.06 L465.84,250.22 L465.98,250.39 L466.11,250.55 L466.25,250.72 L466.38,250.88 L466.51,251.05 L466.65,251.21 L466.78,251.37 L466.92,251.53 L467.05,251.69 L467.18,251.84 L467.32,252.00 L467.45,252.16 L467.59,252.31 L467.72,252.47 L467.86,252.62 L467.99,252.77 L468.12,252.92 L468.26,253.08 L468.39,253.23 L468.53,253.38 L468.66,253.53 L468.79,253.68 L468.93,253.83 L469.06,253.98 L469.20,254.13 L469.33,254.28 L469.47,254.43 L469.60,254.58 L469.73,254.73 L469.87,254.88 L470.00,255.03 L470.14,255.18 L470.27,255.33 L470.40,255.48 L470.54,255.63 L470.67,255.78 L470.81,255.94 L470.94,256.09 L471.08,256.24 L471.21,256.39 L471.34,256.54 L471.48,256.69 L471.61,256.84 L471.75,256.98 L471.88,257.13 L472.01,257.28 L472.15,257.43 L472.28,257.58 L472.42,257.73 L472.55,257.88 L472.69,258.03 L472.82,258.18 L472.95,258.33 L473.09,258.48 L473.22,258.62 L473.36,258.77 L473.49,258.92 L473.62,259.07 L473.76,259.22 L473.89,259.36 L474.03,259.51 L474.16,259.66 L474.30,259.81 L474.43,259.95 L474.56,260.10 L474.70,260.25 L474.83,260.40 L474.97,260.54 L475.10,260.69 L475.23,260.84 L475.37,260.98 L475.50,261.13 L475.64,261.28 L475.77,261.42 L475.91,261.57 L476.04,261.72 L476.17,261.86 L476.31,262.01 L476.44,262.15 L476.58,262.30 L476.71,262.44 L476.84,262.59 L476.98,262.74 L477.11,262.88 L477.25,263.03 L477.38,263.17 L477.52,263.32 L477.65,263.46 L477.78,263.61 L477.92,263.75 L478.05,263.89 L478.19,264.04 L478.32,264.18 L478.45,264.33 L478.59,264.47 L478.72,264.62 L478.86,264.76 L478.99,264.90 L479.13,265.05 L479.26,265.19 L479.39,265.33 L479.53,265.48 L479.66,265.62 L479.80,265.76 L479.93,265.91 L480.06,266.05 L480.20,266.19 L480.33,266.33 L480.47,266.48 L480.60,266.62 L480.74,266.76 L480.87,266.91 L481.00,267.05 L481.14,267.19 L481.27,267.34 L481.41,267.48 L481.54,267.63 L481.67,267.77 L481.81,267.92 L481.94,268.07 L482.08,268.21 L482.21,268.36 L482.35,268.50 L482.48,268.65 L482.61,268.79 L482.75,268.94 L482.88,269.09 L483.02,269.23 L483.15,269.38 L483.28,269.52 L483.42,269.67 L483.55,269.81 L483.69,269.96 L483.82,270.10 L483.96,270.24 L484.09,270.39 L484.22,270.53 L484.36,270.67 L484.49,270.82 L484.63,270.96 L484.76,271.10 L484.89,271.24 L485.03,271.38 L485.16,271.52 L485.30,271.65 L485.43,271.79 L485.57,271.93 L485.70,272.06 L485.83,272.20 L485.97,272.33 L486.10,272.46 L486.24,272.60 L486.37,272.73 L486.50,272.86 L486.64,272.98 L486.77,273.11 L486.91,273.24 L487.04,273.36 L487.18,273.49 L487.31,273.61 L487.44,273.73 L487.58,273.85 L487.71,273.97 L487.85,274.09 L487.98,274.21 L488.11,274.32 L488.25,274.44 L488.38,274.56 L488.52,274.67 L488.65,274.79 L488.79,274.90 L488.92,275.02 L489.05,275.13 L489.19,275.25 L489.32,275.36 L489.46,275.47 L489.59,275.58 L489.72,275.69 L489.86,275.81 L489.99,275.92 L490.13,276.03 L490.26,276.13 L490.40,276.24 L490.53,276.35 L490.66,276.46 L490.80,276.57 L490.93,276.67 L491.07,276.78 L491.20,276.88 L491.33,276.99 L491.47,277.09 L491.60,277.19 L491.74,277.30 L491.87,277.40 L492.01,277.50 L492.14,277.60 L492.27,277.70 L492.41,277.80 L492.54,277.89 L492.68,277.99 L492.81,278.09 L492.94,278.18 L493.08,278.28 L493.21,278.37 L493.35,278.47 L493.48,278.56 L493.62,278.65 L493.75,278.74 L493.88,278.83 L494.02,278.92 L494.15,279.01 L494.29,279.10 L494.42,279.19 L494.55,279.27 L494.69,279.36 L494.82,279.44 L494.96,279.52 L495.09,279.61 L495.23,279.69 L495.36,279.77 L495.49,279.86 L495.63,279.94 L495.76,280.02 L495.90,280.10 L496.03,280.18 L496.16,280.26 L496.30,280.34 L496.43,280.42 L496.57,280.50 L496.70,280.58 L496.84,280.66 L496.97,280.74 L497.10,280.82 L497.24,280.90 L497.37,280.98 L497.51,281.05 L497.64,281.13 L497.77,281.21 L497.91,281.28 L498.04,281.36 L498.18,281.43 L498.31,281.51 L498.45,281.58 L498.58,281.66 L498.71,281.73 L498.85,281.80 L498.98,281.88 L499.12,281.95 L499.25,282.02 L499.38,282.09 L499.52,282.16 L499.65,282.23 L499.79,282.30 L499.92,282.37 L500.06,282.44 L500.19,282.51 L500.32,282.58 L500.46,282.65 L500.59,282.71 L500.73,282.78 L500.86,282.84 L500.99,282.91 L501.13,282.97 L501.26,283.04 L501.40,283.10 L501.53,283.17 L501.67,283.23 L501.80,283.29 L501.93,283.35 L502.07,283.41 L502.20,283.47 L502.34,283.53 L502.47,283.59 L502.60,283.65 L502.74,283.71 L502.87,283.77 L503.01,283.82 L503.14,283.88 L503.28,283.93 L503.41,283.99 L503.54,284.04 L503.68,284.10 L503.81,284.15 L503.95,284.20 L504.08,284.25 L504.21,284.30 L504.35,284.35" stroke="#22e622" stroke-width="1.3" fill="none" stroke-linejoin="round" />
<path d="M437.40,203.85 L437.69,196.09 L437.98,192.55 L438.27,191.05 L438.57,190.07 L438.86,189.37 L439.15,188.77 L439.44,188.25 L439.73,187.82 L440.02,187.49 L440.31,187.26 L440.61,187.09 L440.90,186.93 L441.19,186.78 L441.48,186.66 L441.77,186.56 L442.06,186.49 L442.35,186.45 L442.64,186.44 L442.94,186.51 L443.23,186.65 L443.52,186.87 L443.81,187.14 L444.10,187.47 L444.39,187.83 L444.68,188.21 L444.98,188.62 L445.27,189.03 L445.56,189.44 L445.85,189.83 L446.14,190.20 L446.43,190.59 L446.72,190.99 L447.02,191.42 L447.31,191.86 L447.60,192.32 L447.89,192.79 L448.18,193.28 L448.47,193.77 L448.76,194.27 L449.05,194.77 L449.35,195.28 L449.64,195.79 L449.93,196.30 L450.22,196.81 L450.51,197.32 L450.80,197.82 L451.09,198.30 L451.39,198.78 L451.68,199.25 L451.97,199.71 L452.26,200.17 L452.55,200.62 L452.84,201.08 L453.13,201.54 L453.43,201.99 L453.72,202.44 L454.01,202.90 L454.30,203.35 L454.59,203.80 L454.88,204.25 L455.17,204.70 L455.46,205.14 L455.76,205.58 L456.05,206.02 L456.34,206.46 L456.63,206.89 L456.92,207.33 L457.21,207.75 L457.50,208.18 L457.80,208.60 L458.09,209.02 L458.38,209.43 L458.67,209.84 L458.96,210.24 L459.25,210.64 L459.54,211.04 L459.84,211.44 L460.13,211.83 L460.42,212.22 L460.71,212.61 L461.00,212.99 L461.29,213.38 L461.58,213.76 L461.87,214.14 L462.17,214.51 L462.46,214.88 L462.75,215.25 L463.04,215.62 L463.33,215.99 L463.62,216.35 L463.91,216.71 L464.21,217.07 L464.50,217.42 L464.79,217.77 L465.08,218.12 L465.37,218.47 L465.66,218.81 L465.95,219.15 L466.25,219.49 L466.54,219.82 L466.83,220.15 L467.12,220.48 L467.41,220.81 L467.70,221.13 L467.99,221.45 L468.28,221.77 L468.58,222.08 L468.87,222.40 L469.16,222.71 L469.45,223.02 L469.74,223.33 L470.03,223.63 L470.32,223.94 L470.62,224.24 L470.91,224.54 L471.20,224.84 L471.49,225.14 L471.78,225.44 L472.07,225.74 L472.36,226.03 L472.66,226.33 L472.95,226.63 L473.24,226.93 L473.53,227.22 L473.82,227.52 L474.11,227.81 L474.40,228.11 L474.69,228.40 L474.99,228.70 L475.28,228.99 L475.57,229.28 L475.86,229.57 L476.15,229.86 L476.44,230.15 L476.73,230.43 L477.03,230.72 L477.32,231.01 L477.61,231.29 L477.90,231.57 L478.19,231.85 L478.48,232.13 L478.77,232.41 L479.07,232.68 L479.36,232.96 L479.65,233.23 L479.94,233.50 L480.23,233.77 L480.52,234.03 L480.81,234.30 L481.10,234.56 L481.40,234.83 L481.69,235.09 L481.98,235.35 L482.27,235.61 L482.56,235.87 L482.85,236.13 L483.14,236.39 L483.44,236.65 L483.73,236.91 L484.02,237.17 L484.31,237.42 L484.60,237.68 L484.89,237.93 L485.18,238.18 L485.48,238.44 L485.77,238.69 L486.06,238.94 L486.35,239.19 L486.64,239.44 L486.93,239.69 L487.22,239.93 L487.51,240.18 L487.81,240.43 L488.10,240.67 L488.39,240.91 L488.68,241.16 L488.97,241.40 L489.26,241.64 L489.55,241.88 L489.85,242.12 L490.14,242.36 L490.43,242.60 L490.72,242.84 L491.01,243.07 L491.30,243.31 L491.59,243.54 L491.89,243.78 L492.18,244.01 L492.47,244.24 L492.76,244.47 L493.05,244.71 L493.34,244.93 L493.63,245.16 L493.92,245.39 L494.22,245.62 L494.51,245.84 L494.80,246.07 L495.09,246.29 L495.38,246.52 L495.67,246.74 L495.96,246.96 L496.26,247.18 L496.55,247.40 L496.84,247.63 L497.13,247.84 L497.42,248.06 L497.71,248.28 L498.00,248.50 L498.30,248.72 L498.59,248.93 L498.88,249.15 L499.17,249.36 L499.46,249.58 L499.75,249.79 L500.04,250.00 L500.33,250.21 L500.63,250.42 L500.92,250.63 L501.21,250.84 L501.50,251.05 L501.79,251.26 L502.08,251.47 L502.37,251.67 L502.67,251.88 L502.96,252.09 L503.25,252.29 L503.54,252.49 L503.83,252.70 L504.12,252.90 L504.41,253.10 L504.71,253.30 L505.00,253.50 L505.29,253.70 L505.58,253.90 L505.87,254.09 L506.16,254.29 L506.45,254.49 L506.74,254.68 L507.04,254.88 L507.33,255.07 L507.62,255.26 L507.91,255.45 L508.20,255.65 L508.49,255.84 L508.78,256.03 L509.08,256.21 L509.37,256.40 L509.66,256.59 L509.95,256.78 L510.24,256.96 L510.53,257.15 L510.82,257.33 L511.12,257.52 L511.41,257.70 L511.70,257.89 L511.99,258.07 L512.28,258.25 L512.57,258.43 L512.86,258.61 L513.15,258.79 L513.45,258.97 L513.74,259.15 L514.03,259.33 L514.32,259.51 L514.61,259.68 L514.90,259.86 L515.19,260.03 L515.49,260.21 L515.78,260.38 L516.07,260.56 L516.36,260.73 L516.65,260.90 L516.94,261.07 L517.23,261.24 L517.53,261.41 L517.82,261.58 L518.11,261.75 L518.40,261.92 L518.69,262.09 L518.98,262.26 L519.27,262.42 L519.56,262.59 L519.86,262.75 L520.15,262.92 L520.44,263.08 L520.73,263.24 L521.02,263.41 L521.31,263.57 L521.60,263.73 L521.90,263.89 L522.19,264.05 L522.48,264.21 L522.77,264.37 L523.06,264.52 L523.35,264.68 L523.64,264.84 L523.94,264.99 L524.23,265.15 L524.52,265.30 L524.81,265.45 L525.10,265.61 L525.39,265.76 L525.68,265.91 L525.97,266.06 L526.27,266.21 L526.56,266.36 L526.85,266.51 L527.14,266.66 L527.43,266.81 L527.72,266.96 L528.01,267.10 L528.31,267.25 L528.60,267.40 L528.89,267.54 L529.18,267.69 L529.47,267.83 L529.76,267.97 L530.05,268.12 L530.35,268.26 L530.64,268.40 L530.93,268.54 L531.22,268.68 L531.51,268.83 L531.80,268.97 L532.09,269.11 L532.38,269.24 L532.68,269.38 L532.97,269.52 L533.26,269.66 L533.55,269.80 L533.84,269.93 L534.13,270.07 L534.42,270.20 L534.72,270.34 L535.01,270.48 L535.30,270.61 L535.59,270.74 L535.88,270.88 L536.17,271.01 L536.46,271.14 L536.76,271.28 L537.05,271.41 L537.34,271.54 L537.63,271.67 L537.92,271.80 L538.21,271.93 L538.50,272.06 L538.79,272.19 L539.09,272.32 L539.38,272.45 L539.67,272.58 L539.96,272.71 L540.25,272.84 L540.54,272.97 L540.83,273.10 L541.13,273.23 L541.42,273.36 L541.71,273.48 L542.00,273.61 L542.29,273.74 L542.58,273.86 L542.87,273.99 L543.17,274.12 L543.46,274.24 L543.75,274.37 L544.04,274.49 L544.33,274.62 L544.62,274.74 L544.91,274.86 L545.20,274.99 L545.50,275.11 L545.79,275.23 L546.08,275.35 L546.37,275.47 L546.66,275.59 L546.95,275.71 L547.24,275.83 L547.54,275.95 L547.83,276.06 L548.12,276.18 L548.41,276.29 L548.70,276.41 L548.99,276.52 L549.28,276.64 L549.58,276.75 L549.87,276.86 L550.16,276.97 L550.45,277.08 L550.74,277.19 L551.03,277.30 L551.32,277.40 L551.61,277.51 L551.91,277.62 L552.20,277.72 L552.49,277.82 L552.78,277.93 L553.07,278.03 L553.36,278.13 L553.65,278.23 L553.95,278.33 L554.24,278.43 L554.53,278.53 L554.82,278.63 L555.11,278.73 L555.40,278.83 L555.69,278.93 L555.99,279.02 L556.28,279.12 L556.57,279.21 L556.86,279.31 L557.15,279.40 L557.44,279.50 L557.73,279.59 L558.02,279.69 L558.32,279.78 L558.61,279.87 L558.90,279.96 L559.19,280.05 L559.48,280.14 L559.77,280.23 L560.06,280.32 L560.36,280.41 L560.65,280.50 L560.94,280.59 L561.23,280.68 L561.52,280.76 L561.81,280.85 L562.10,280.94 L562.40,281.02 L562.69,281.11 L562.98,281.19 L563.27,281.28 L563.56,281.36 L563.85,281.44 L564.14,281.52 L564.43,281.61 L564.73,281.69 L565.02,281.77 L565.31,281.85 L565.60,281.93 L565.89,282.01 L566.18,282.09 L566.47,282.17 L566.77,282.25 L567.06,282.33 L567.35,282.40 L567.64,282.48 L567.93,282.56 L568.22,282.63 L568.51,282.71 L568.81,282.79 L569.10,282.86 L569.39,282.94 L569.68,283.01 L569.97,283.09 L570.26,283.16 L570.55,283.23 L570.84,283.31 L571.14,283.38 L571.43,283.45 L571.72,283.53 L572.01,283.60 L572.30,283.67 L572.59,283.74 L572.88,283.81 L573.18,283.88 L573.47,283.95 L573.76,284.02 L574.05,284.09 L574.34,284.16 L574.63,284.23 L574.92,284.29 L575.22,284.36 L575.51,284.43 L575.80,284.50 L576.09,284.56 L576.38,284.63 L576.67,284.69 L576.96,284.76 L577.25,284.82 L577.55,284.89 L577.84,284.95 L578.13,285.01 L578.42,285.08 L578.71,285.14 L579.00,285.20 L579.29,285.26 L579.59,285.32 L579.88,285.39 L580.17,285.45 L580.46,285.50 L580.75,285.56 L581.04,285.62 L581.33,285.68 L581.63,285.74 L581.92,285.79 L582.21,285.84 L582.50,285.89 L582.79,285.95" stroke="#ea1c24" stroke-width="1.3" fill="none" stroke-linejoin="round" />
<line x1="557.60" y1="185.90" x2="571.90" y2="185.90" stroke="#22e622" stroke-width="1.3"/>
<line x1="557.60" y1="194.30" x2="571.90" y2="194.30" stroke="#ea1c24" stroke-width="1.3"/>
<text x="573.50" y="188.20" font-size="6.45" text-anchor="start" fill="#000" textLength="21.0" lengthAdjust="spacingAndGlyphs" >Pristine</text>
<text x="573.5" y="196.6" font-size="6.45" text-anchor="start" textLength="25.6" lengthAdjust="spacingAndGlyphs">6% SrBr</text><text x="599.2" y="198.1" font-size="4.6">2</text>
<text x="499.6" y="231.5" font-size="8" fill="#ea1c24" textLength="46" lengthAdjust="spacingAndGlyphs">L<tspan font-size="7.4" dy="2.6">0</tspan><tspan dy="-2.6"> = 796 cd/m</tspan><tspan font-size="7.4" dy="-3.6">2</tspan></text>
<text x="499.6" y="242.8" font-size="8" fill="#ea1c24" textLength="34.1" lengthAdjust="spacingAndGlyphs">T<tspan font-size="7.4" dy="2.6">50</tspan><tspan dy="-2.6"> = 681 s</tspan></text>
<text x="440.5" y="284.2" font-size="8" fill="#22e622" textLength="46" lengthAdjust="spacingAndGlyphs">L<tspan font-size="7.4" dy="2.6">0</tspan><tspan dy="-2.6"> = 765 cd/m</tspan><tspan font-size="7.4" dy="-3.6">2</tspan></text>
<text x="440.5" y="295.5" font-size="8" fill="#22e622" textLength="34.6" lengthAdjust="spacingAndGlyphs">T<tspan font-size="7.4" dy="2.6">50</tspan><tspan dy="-2.6"> = 338 s</tspan></text>
</svg></body></html>
